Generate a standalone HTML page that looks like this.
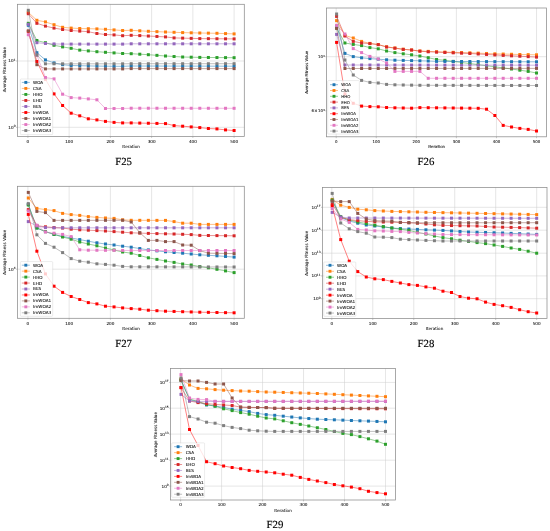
<!DOCTYPE html>
<html><head><meta charset="utf-8"><title>Convergence curves F25-F29</title>
<style>
html,body{margin:0;padding:0;background:#fff;}
body{width:550px;height:531px;overflow:hidden;}
.t{stroke:#1a1a1a;stroke-width:0.09px;}
svg{display:block;text-rendering:geometricPrecision;font-family:"DejaVu Sans","Liberation Sans",sans-serif;}
</style></head><body>
<svg width="550" height="531" viewBox="0 0 550 531">
<rect width="550" height="531" fill="#fff"/>
<rect x="17.4" y="4.3" width="226.9" height="132.2" fill="#fff"/>
<line x1="27.9" y1="4.3" x2="27.9" y2="136.5" stroke="#cdcdcd" stroke-width="0.5"/>
<line x1="27.9" y1="136.5" x2="27.9" y2="137.9" stroke="#777" stroke-width="0.4"/>
<text x="27.9" y="142.79" font-size="4.15" text-anchor="middle" fill="#1a1a1a" class="t">0</text>
<line x1="69.14" y1="4.3" x2="69.14" y2="136.5" stroke="#cdcdcd" stroke-width="0.5"/>
<line x1="69.14" y1="136.5" x2="69.14" y2="137.9" stroke="#777" stroke-width="0.4"/>
<text x="69.14" y="142.79" font-size="4.15" text-anchor="middle" fill="#1a1a1a" class="t">100</text>
<line x1="110.38" y1="4.3" x2="110.38" y2="136.5" stroke="#cdcdcd" stroke-width="0.5"/>
<line x1="110.38" y1="136.5" x2="110.38" y2="137.9" stroke="#777" stroke-width="0.4"/>
<text x="110.38" y="142.79" font-size="4.15" text-anchor="middle" fill="#1a1a1a" class="t">200</text>
<line x1="151.62" y1="4.3" x2="151.62" y2="136.5" stroke="#cdcdcd" stroke-width="0.5"/>
<line x1="151.62" y1="136.5" x2="151.62" y2="137.9" stroke="#777" stroke-width="0.4"/>
<text x="151.62" y="142.79" font-size="4.15" text-anchor="middle" fill="#1a1a1a" class="t">300</text>
<line x1="192.86" y1="4.3" x2="192.86" y2="136.5" stroke="#cdcdcd" stroke-width="0.5"/>
<line x1="192.86" y1="136.5" x2="192.86" y2="137.9" stroke="#777" stroke-width="0.4"/>
<text x="192.86" y="142.79" font-size="4.15" text-anchor="middle" fill="#1a1a1a" class="t">400</text>
<line x1="234.1" y1="4.3" x2="234.1" y2="136.5" stroke="#cdcdcd" stroke-width="0.5"/>
<line x1="234.1" y1="136.5" x2="234.1" y2="137.9" stroke="#777" stroke-width="0.4"/>
<text x="234.1" y="142.79" font-size="4.15" text-anchor="middle" fill="#1a1a1a" class="t">500</text>
<line x1="17.4" y1="61" x2="244.3" y2="61" stroke="#cdcdcd" stroke-width="0.5"/>
<line x1="16" y1="61" x2="17.4" y2="61" stroke="#777" stroke-width="0.4"/>
<text x="15.5" y="62.49" font-size="4.15" text-anchor="end" fill="#1a1a1a" class="t"><tspan dx="0">10</tspan><tspan dy="-1.58" font-size="2.91">1</tspan></text>
<line x1="17.4" y1="127.3" x2="244.3" y2="127.3" stroke="#cdcdcd" stroke-width="0.5"/>
<line x1="16" y1="127.3" x2="17.4" y2="127.3" stroke="#777" stroke-width="0.4"/>
<text x="15.5" y="128.79" font-size="4.15" text-anchor="end" fill="#1a1a1a" class="t"><tspan dx="0">10</tspan><tspan dy="-1.58" font-size="2.91">0</tspan></text>
<polyline points="28.3,25.3 36.88,52.7 45.45,59.9 54.02,62.9 62.6,64.7 71.17,65.5 79.75,65.7 88.32,65.9 96.9,66.1 105.47,66.2 114.05,66.3 122.62,66.31 131.2,66.03 139.78,66.04 148.35,66.06 156.93,66.07 165.5,66.09 174.07,66.1 182.65,66.11 191.22,66.13 199.8,66.14 208.38,66.16 216.95,66.17 225.53,66.19 234.1,66.2" fill="none" stroke="#1f77b4" stroke-width="0.55" stroke-opacity="0.9"/>
<g fill="#1f77b4"><rect x="26.8" y="23.8" width="3.0" height="3.0"/><rect x="35.38" y="51.2" width="3.0" height="3.0"/><rect x="43.95" y="58.4" width="3.0" height="3.0"/><rect x="52.52" y="61.4" width="3.0" height="3.0"/><rect x="61.1" y="63.2" width="3.0" height="3.0"/><rect x="69.67" y="64" width="3.0" height="3.0"/><rect x="78.25" y="64.2" width="3.0" height="3.0"/><rect x="86.82" y="64.4" width="3.0" height="3.0"/><rect x="95.4" y="64.6" width="3.0" height="3.0"/><rect x="103.97" y="64.7" width="3.0" height="3.0"/><rect x="112.55" y="64.8" width="3.0" height="3.0"/><rect x="121.12" y="64.81" width="3.0" height="3.0"/><rect x="129.7" y="64.53" width="3.0" height="3.0"/><rect x="138.28" y="64.54" width="3.0" height="3.0"/><rect x="146.85" y="64.56" width="3.0" height="3.0"/><rect x="155.43" y="64.57" width="3.0" height="3.0"/><rect x="164" y="64.59" width="3.0" height="3.0"/><rect x="172.57" y="64.6" width="3.0" height="3.0"/><rect x="181.15" y="64.61" width="3.0" height="3.0"/><rect x="189.72" y="64.63" width="3.0" height="3.0"/><rect x="198.3" y="64.64" width="3.0" height="3.0"/><rect x="206.88" y="64.66" width="3.0" height="3.0"/><rect x="215.45" y="64.67" width="3.0" height="3.0"/><rect x="224.03" y="64.69" width="3.0" height="3.0"/><rect x="232.6" y="64.7" width="3.0" height="3.0"/></g>
<polyline points="28.3,12.3 36.88,20.3 45.45,21.9 54.02,24.7 62.6,27.3 71.17,28.1 79.75,28.5 88.32,28.7 96.9,28.9 105.47,29.3 114.05,29.9 122.62,30.5 131.2,30.3 139.78,30.8 148.35,31.3 156.93,31.65 165.5,32 174.07,32.3 182.65,32.6 191.22,32.8 199.8,33 208.38,33.15 216.95,33.3 225.53,33.6 234.1,33.9" fill="none" stroke="#ff7f0e" stroke-width="0.55" stroke-opacity="0.9"/>
<g fill="#ff7f0e"><rect x="26.8" y="10.8" width="3.0" height="3.0"/><rect x="35.38" y="18.8" width="3.0" height="3.0"/><rect x="43.95" y="20.4" width="3.0" height="3.0"/><rect x="52.52" y="23.2" width="3.0" height="3.0"/><rect x="61.1" y="25.8" width="3.0" height="3.0"/><rect x="69.67" y="26.6" width="3.0" height="3.0"/><rect x="78.25" y="27" width="3.0" height="3.0"/><rect x="86.82" y="27.2" width="3.0" height="3.0"/><rect x="95.4" y="27.4" width="3.0" height="3.0"/><rect x="103.97" y="27.8" width="3.0" height="3.0"/><rect x="112.55" y="28.4" width="3.0" height="3.0"/><rect x="121.12" y="29" width="3.0" height="3.0"/><rect x="129.7" y="28.8" width="3.0" height="3.0"/><rect x="138.28" y="29.3" width="3.0" height="3.0"/><rect x="146.85" y="29.8" width="3.0" height="3.0"/><rect x="155.43" y="30.15" width="3.0" height="3.0"/><rect x="164" y="30.5" width="3.0" height="3.0"/><rect x="172.57" y="30.8" width="3.0" height="3.0"/><rect x="181.15" y="31.1" width="3.0" height="3.0"/><rect x="189.72" y="31.3" width="3.0" height="3.0"/><rect x="198.3" y="31.5" width="3.0" height="3.0"/><rect x="206.88" y="31.65" width="3.0" height="3.0"/><rect x="215.45" y="31.8" width="3.0" height="3.0"/><rect x="224.03" y="32.1" width="3.0" height="3.0"/><rect x="232.6" y="32.4" width="3.0" height="3.0"/></g>
<polyline points="28.3,23.3 36.88,40.5 45.45,42.7 54.02,45.3 62.6,46.9 71.17,48.3 79.75,50.1 88.32,50.9 96.9,51.7 105.47,52.3 114.05,52.9 122.62,53.5 131.2,53.7 139.78,54.2 148.35,54.7 156.93,55.35 165.5,56 174.07,56.5 182.65,57 191.22,57.2 199.8,57.4 208.38,57.48 216.95,57.55 225.53,57.62 234.1,57.7" fill="none" stroke="#2ca02c" stroke-width="0.55" stroke-opacity="0.9"/>
<g fill="#2ca02c"><rect x="26.8" y="21.8" width="3.0" height="3.0"/><rect x="35.38" y="39" width="3.0" height="3.0"/><rect x="43.95" y="41.2" width="3.0" height="3.0"/><rect x="52.52" y="43.8" width="3.0" height="3.0"/><rect x="61.1" y="45.4" width="3.0" height="3.0"/><rect x="69.67" y="46.8" width="3.0" height="3.0"/><rect x="78.25" y="48.6" width="3.0" height="3.0"/><rect x="86.82" y="49.4" width="3.0" height="3.0"/><rect x="95.4" y="50.2" width="3.0" height="3.0"/><rect x="103.97" y="50.8" width="3.0" height="3.0"/><rect x="112.55" y="51.4" width="3.0" height="3.0"/><rect x="121.12" y="52" width="3.0" height="3.0"/><rect x="129.7" y="52.2" width="3.0" height="3.0"/><rect x="138.28" y="52.7" width="3.0" height="3.0"/><rect x="146.85" y="53.2" width="3.0" height="3.0"/><rect x="155.43" y="53.85" width="3.0" height="3.0"/><rect x="164" y="54.5" width="3.0" height="3.0"/><rect x="172.57" y="55" width="3.0" height="3.0"/><rect x="181.15" y="55.5" width="3.0" height="3.0"/><rect x="189.72" y="55.7" width="3.0" height="3.0"/><rect x="198.3" y="55.9" width="3.0" height="3.0"/><rect x="206.88" y="55.98" width="3.0" height="3.0"/><rect x="215.45" y="56.05" width="3.0" height="3.0"/><rect x="224.03" y="56.12" width="3.0" height="3.0"/><rect x="232.6" y="56.2" width="3.0" height="3.0"/></g>
<polyline points="28.3,13.7 36.88,23.3 45.45,26.1 54.02,28.1 62.6,29.5 71.17,30.5 79.75,31.1 88.32,31.7 96.9,33.5 105.47,34.5 114.05,34.9 122.62,35.7 131.2,35.3 139.78,35.6 148.35,36.03 156.93,36.47 165.5,36.9 174.07,37.9 182.65,38.13 191.22,38.37 199.8,38.6 208.38,38.67 216.95,38.75 225.53,38.83 234.1,38.9" fill="none" stroke="#d62728" stroke-width="0.55" stroke-opacity="0.9"/>
<g fill="#d62728"><rect x="26.8" y="12.2" width="3.0" height="3.0"/><rect x="35.38" y="21.8" width="3.0" height="3.0"/><rect x="43.95" y="24.6" width="3.0" height="3.0"/><rect x="52.52" y="26.6" width="3.0" height="3.0"/><rect x="61.1" y="28" width="3.0" height="3.0"/><rect x="69.67" y="29" width="3.0" height="3.0"/><rect x="78.25" y="29.6" width="3.0" height="3.0"/><rect x="86.82" y="30.2" width="3.0" height="3.0"/><rect x="95.4" y="32" width="3.0" height="3.0"/><rect x="103.97" y="33" width="3.0" height="3.0"/><rect x="112.55" y="33.4" width="3.0" height="3.0"/><rect x="121.12" y="34.2" width="3.0" height="3.0"/><rect x="129.7" y="33.8" width="3.0" height="3.0"/><rect x="138.28" y="34.1" width="3.0" height="3.0"/><rect x="146.85" y="34.53" width="3.0" height="3.0"/><rect x="155.43" y="34.97" width="3.0" height="3.0"/><rect x="164" y="35.4" width="3.0" height="3.0"/><rect x="172.57" y="36.4" width="3.0" height="3.0"/><rect x="181.15" y="36.63" width="3.0" height="3.0"/><rect x="189.72" y="36.87" width="3.0" height="3.0"/><rect x="198.3" y="37.1" width="3.0" height="3.0"/><rect x="206.88" y="37.17" width="3.0" height="3.0"/><rect x="215.45" y="37.25" width="3.0" height="3.0"/><rect x="224.03" y="37.33" width="3.0" height="3.0"/><rect x="232.6" y="37.4" width="3.0" height="3.0"/></g>
<polyline points="28.3,24.3 36.88,42.7 45.45,43.5 54.02,43.9 62.6,44.1 71.17,44.1 79.75,44.1 88.32,44.1 96.9,44.1 105.47,44.1 114.05,44.1 122.62,44.1 131.2,43.8 139.78,43.8 148.35,43.8 156.93,43.8 165.5,43.8 174.07,43.8 182.65,43.8 191.22,43.8 199.8,43.8 208.38,43.8 216.95,43.8 225.53,43.8 234.1,43.8" fill="none" stroke="#9467bd" stroke-width="0.55" stroke-opacity="0.9"/>
<g fill="#9467bd"><rect x="26.8" y="22.8" width="3.0" height="3.0"/><rect x="35.38" y="41.2" width="3.0" height="3.0"/><rect x="43.95" y="42" width="3.0" height="3.0"/><rect x="52.52" y="42.4" width="3.0" height="3.0"/><rect x="61.1" y="42.6" width="3.0" height="3.0"/><rect x="69.67" y="42.6" width="3.0" height="3.0"/><rect x="78.25" y="42.6" width="3.0" height="3.0"/><rect x="86.82" y="42.6" width="3.0" height="3.0"/><rect x="95.4" y="42.6" width="3.0" height="3.0"/><rect x="103.97" y="42.6" width="3.0" height="3.0"/><rect x="112.55" y="42.6" width="3.0" height="3.0"/><rect x="121.12" y="42.6" width="3.0" height="3.0"/><rect x="129.7" y="42.3" width="3.0" height="3.0"/><rect x="138.28" y="42.3" width="3.0" height="3.0"/><rect x="146.85" y="42.3" width="3.0" height="3.0"/><rect x="155.43" y="42.3" width="3.0" height="3.0"/><rect x="164" y="42.3" width="3.0" height="3.0"/><rect x="172.57" y="42.3" width="3.0" height="3.0"/><rect x="181.15" y="42.3" width="3.0" height="3.0"/><rect x="189.72" y="42.3" width="3.0" height="3.0"/><rect x="198.3" y="42.3" width="3.0" height="3.0"/><rect x="206.88" y="42.3" width="3.0" height="3.0"/><rect x="215.45" y="42.3" width="3.0" height="3.0"/><rect x="224.03" y="42.3" width="3.0" height="3.0"/><rect x="232.6" y="42.3" width="3.0" height="3.0"/></g>
<polyline points="28.3,31.3 36.88,61.5 45.45,79.3 54.02,93.9 62.6,105.5 71.17,113.2 79.75,115.8 88.32,118.8 96.9,119.9 105.47,121.4 114.05,122.4 122.62,122.9 131.2,122.9 139.78,123.08 148.35,123.25 156.93,123.42 165.5,123.6 174.07,125.6 182.65,126.2 191.22,126.9 199.8,127.6 208.38,128.5 216.95,128.9 225.53,129.9 234.1,130.5" fill="none" stroke="#ff0000" stroke-width="0.55" stroke-opacity="0.9"/>
<g fill="#ff0000"><rect x="26.8" y="29.8" width="3.0" height="3.0"/><rect x="35.38" y="60" width="3.0" height="3.0"/><rect x="43.95" y="77.8" width="3.0" height="3.0"/><rect x="52.52" y="92.4" width="3.0" height="3.0"/><rect x="61.1" y="104" width="3.0" height="3.0"/><rect x="69.67" y="111.7" width="3.0" height="3.0"/><rect x="78.25" y="114.3" width="3.0" height="3.0"/><rect x="86.82" y="117.3" width="3.0" height="3.0"/><rect x="95.4" y="118.4" width="3.0" height="3.0"/><rect x="103.97" y="119.9" width="3.0" height="3.0"/><rect x="112.55" y="120.9" width="3.0" height="3.0"/><rect x="121.12" y="121.4" width="3.0" height="3.0"/><rect x="129.7" y="121.4" width="3.0" height="3.0"/><rect x="138.28" y="121.58" width="3.0" height="3.0"/><rect x="146.85" y="121.75" width="3.0" height="3.0"/><rect x="155.43" y="121.92" width="3.0" height="3.0"/><rect x="164" y="122.1" width="3.0" height="3.0"/><rect x="172.57" y="124.1" width="3.0" height="3.0"/><rect x="181.15" y="124.7" width="3.0" height="3.0"/><rect x="189.72" y="125.4" width="3.0" height="3.0"/><rect x="198.3" y="126.1" width="3.0" height="3.0"/><rect x="206.88" y="127" width="3.0" height="3.0"/><rect x="215.45" y="127.4" width="3.0" height="3.0"/><rect x="224.03" y="128.4" width="3.0" height="3.0"/><rect x="232.6" y="129" width="3.0" height="3.0"/></g>
<polyline points="28.3,30.9 36.88,64.7 45.45,68.9 54.02,68.9 62.6,68.9 71.17,68.9 79.75,68.9 88.32,68.9 96.9,68.9 105.47,68.9 114.05,68.9 122.62,68.9 131.2,68.6 139.78,68.6 148.35,68.6 156.93,68.6 165.5,68.6 174.07,68.6 182.65,68.6 191.22,68.6 199.8,68.6 208.38,68.6 216.95,68.6 225.53,68.6 234.1,68.6" fill="none" stroke="#8c564b" stroke-width="0.55" stroke-opacity="0.9"/>
<g fill="#8c564b"><rect x="26.8" y="29.4" width="3.0" height="3.0"/><rect x="35.38" y="63.2" width="3.0" height="3.0"/><rect x="43.95" y="67.4" width="3.0" height="3.0"/><rect x="52.52" y="67.4" width="3.0" height="3.0"/><rect x="61.1" y="67.4" width="3.0" height="3.0"/><rect x="69.67" y="67.4" width="3.0" height="3.0"/><rect x="78.25" y="67.4" width="3.0" height="3.0"/><rect x="86.82" y="67.4" width="3.0" height="3.0"/><rect x="95.4" y="67.4" width="3.0" height="3.0"/><rect x="103.97" y="67.4" width="3.0" height="3.0"/><rect x="112.55" y="67.4" width="3.0" height="3.0"/><rect x="121.12" y="67.4" width="3.0" height="3.0"/><rect x="129.7" y="67.1" width="3.0" height="3.0"/><rect x="138.28" y="67.1" width="3.0" height="3.0"/><rect x="146.85" y="67.1" width="3.0" height="3.0"/><rect x="155.43" y="67.1" width="3.0" height="3.0"/><rect x="164" y="67.1" width="3.0" height="3.0"/><rect x="172.57" y="67.1" width="3.0" height="3.0"/><rect x="181.15" y="67.1" width="3.0" height="3.0"/><rect x="189.72" y="67.1" width="3.0" height="3.0"/><rect x="198.3" y="67.1" width="3.0" height="3.0"/><rect x="206.88" y="67.1" width="3.0" height="3.0"/><rect x="215.45" y="67.1" width="3.0" height="3.0"/><rect x="224.03" y="67.1" width="3.0" height="3.0"/><rect x="232.6" y="67.1" width="3.0" height="3.0"/></g>
<polyline points="28.3,34.7 36.88,55.3 45.45,77.5 54.02,78.9 62.6,94.2 71.17,97.6 79.75,98.1 88.32,98.9 96.9,99.8 105.47,108.5 114.05,108.51 122.62,108.51 131.2,108.22 139.78,108.23 148.35,108.23 156.93,108.24 165.5,108.25 174.07,108.25 182.65,108.26 191.22,108.27 199.8,108.27 208.38,108.28 216.95,108.29 225.53,108.29 234.1,108.3" fill="none" stroke="#e377c2" stroke-width="0.55" stroke-opacity="0.9"/>
<g fill="#e377c2"><rect x="26.8" y="33.2" width="3.0" height="3.0"/><rect x="35.38" y="53.8" width="3.0" height="3.0"/><rect x="43.95" y="76" width="3.0" height="3.0"/><rect x="52.52" y="77.4" width="3.0" height="3.0"/><rect x="61.1" y="92.7" width="3.0" height="3.0"/><rect x="69.67" y="96.1" width="3.0" height="3.0"/><rect x="78.25" y="96.6" width="3.0" height="3.0"/><rect x="86.82" y="97.4" width="3.0" height="3.0"/><rect x="95.4" y="98.3" width="3.0" height="3.0"/><rect x="103.97" y="107" width="3.0" height="3.0"/><rect x="112.55" y="107.01" width="3.0" height="3.0"/><rect x="121.12" y="107.01" width="3.0" height="3.0"/><rect x="129.7" y="106.72" width="3.0" height="3.0"/><rect x="138.28" y="106.73" width="3.0" height="3.0"/><rect x="146.85" y="106.73" width="3.0" height="3.0"/><rect x="155.43" y="106.74" width="3.0" height="3.0"/><rect x="164" y="106.75" width="3.0" height="3.0"/><rect x="172.57" y="106.75" width="3.0" height="3.0"/><rect x="181.15" y="106.76" width="3.0" height="3.0"/><rect x="189.72" y="106.77" width="3.0" height="3.0"/><rect x="198.3" y="106.77" width="3.0" height="3.0"/><rect x="206.88" y="106.78" width="3.0" height="3.0"/><rect x="215.45" y="106.79" width="3.0" height="3.0"/><rect x="224.03" y="106.79" width="3.0" height="3.0"/><rect x="232.6" y="106.8" width="3.0" height="3.0"/></g>
<polyline points="28.3,10.3 36.88,55.1 45.45,63.8 54.02,63.8 62.6,63.8 71.17,63.8 79.75,63.8 88.32,63.8 96.9,63.8 105.47,63.8 114.05,63.8 122.62,63.8 131.2,63.7 139.78,63.7 148.35,63.7 156.93,63.7 165.5,63.7 174.07,63.7 182.65,63.7 191.22,63.7 199.8,63.7 208.38,63.7 216.95,63.7 225.53,63.7 234.1,63.7" fill="none" stroke="#7f7f7f" stroke-width="0.55" stroke-opacity="0.9"/>
<g fill="#7f7f7f"><rect x="26.8" y="8.8" width="3.0" height="3.0"/><rect x="35.38" y="53.6" width="3.0" height="3.0"/><rect x="43.95" y="62.3" width="3.0" height="3.0"/><rect x="52.52" y="62.3" width="3.0" height="3.0"/><rect x="61.1" y="62.3" width="3.0" height="3.0"/><rect x="69.67" y="62.3" width="3.0" height="3.0"/><rect x="78.25" y="62.3" width="3.0" height="3.0"/><rect x="86.82" y="62.3" width="3.0" height="3.0"/><rect x="95.4" y="62.3" width="3.0" height="3.0"/><rect x="103.97" y="62.3" width="3.0" height="3.0"/><rect x="112.55" y="62.3" width="3.0" height="3.0"/><rect x="121.12" y="62.3" width="3.0" height="3.0"/><rect x="129.7" y="62.2" width="3.0" height="3.0"/><rect x="138.28" y="62.2" width="3.0" height="3.0"/><rect x="146.85" y="62.2" width="3.0" height="3.0"/><rect x="155.43" y="62.2" width="3.0" height="3.0"/><rect x="164" y="62.2" width="3.0" height="3.0"/><rect x="172.57" y="62.2" width="3.0" height="3.0"/><rect x="181.15" y="62.2" width="3.0" height="3.0"/><rect x="189.72" y="62.2" width="3.0" height="3.0"/><rect x="198.3" y="62.2" width="3.0" height="3.0"/><rect x="206.88" y="62.2" width="3.0" height="3.0"/><rect x="215.45" y="62.2" width="3.0" height="3.0"/><rect x="224.03" y="62.2" width="3.0" height="3.0"/><rect x="232.6" y="62.2" width="3.0" height="3.0"/></g>
<rect x="17.4" y="4.3" width="226.9" height="132.2" fill="none" stroke="#8c8c8c" stroke-width="0.75"/>
<rect x="20.4" y="79" width="32.3" height="55.6" rx="0.8" fill="#fff" fill-opacity="0.8" stroke="#d0d0d0" stroke-width="0.4"/>
<line x1="21.8" y1="82.4" x2="29.8" y2="82.4" stroke="#1f77b4" stroke-width="0.5"/>
<rect x="24.35" y="80.95" width="2.9" height="2.9" fill="#1f77b4"/>
<text x="33.1" y="83.89" font-size="4.15" fill="#1a1a1a" class="t">WOA</text>
<line x1="21.8" y1="88.42" x2="29.8" y2="88.42" stroke="#ff7f0e" stroke-width="0.5"/>
<rect x="24.35" y="86.97" width="2.9" height="2.9" fill="#ff7f0e"/>
<text x="33.1" y="89.91" font-size="4.15" fill="#1a1a1a" class="t">CSA</text>
<line x1="21.8" y1="94.44" x2="29.8" y2="94.44" stroke="#2ca02c" stroke-width="0.5"/>
<rect x="24.35" y="92.99" width="2.9" height="2.9" fill="#2ca02c"/>
<text x="33.1" y="95.93" font-size="4.15" fill="#1a1a1a" class="t">HHO</text>
<line x1="21.8" y1="100.46" x2="29.8" y2="100.46" stroke="#d62728" stroke-width="0.5"/>
<rect x="24.35" y="99.01" width="2.9" height="2.9" fill="#d62728"/>
<text x="33.1" y="101.95" font-size="4.15" fill="#1a1a1a" class="t">EHO</text>
<line x1="21.8" y1="106.48" x2="29.8" y2="106.48" stroke="#9467bd" stroke-width="0.5"/>
<rect x="24.35" y="105.03" width="2.9" height="2.9" fill="#9467bd"/>
<text x="33.1" y="107.97" font-size="4.15" fill="#1a1a1a" class="t">BES</text>
<line x1="21.8" y1="112.5" x2="29.8" y2="112.5" stroke="#ff0000" stroke-width="0.5"/>
<rect x="24.35" y="111.05" width="2.9" height="2.9" fill="#ff0000"/>
<text x="33.1" y="113.99" font-size="4.15" fill="#1a1a1a" class="t">ImWOA</text>
<line x1="21.8" y1="118.52" x2="29.8" y2="118.52" stroke="#8c564b" stroke-width="0.5"/>
<rect x="24.35" y="117.07" width="2.9" height="2.9" fill="#8c564b"/>
<text x="33.1" y="120.01" font-size="4.15" fill="#1a1a1a" class="t">ImWOA1</text>
<line x1="21.8" y1="124.54" x2="29.8" y2="124.54" stroke="#e377c2" stroke-width="0.5"/>
<rect x="24.35" y="123.09" width="2.9" height="2.9" fill="#e377c2"/>
<text x="33.1" y="126.03" font-size="4.15" fill="#1a1a1a" class="t">ImWOA2</text>
<line x1="21.8" y1="130.56" x2="29.8" y2="130.56" stroke="#7f7f7f" stroke-width="0.5"/>
<rect x="24.35" y="129.11" width="2.9" height="2.9" fill="#7f7f7f"/>
<text x="33.1" y="132.05" font-size="4.15" fill="#1a1a1a" class="t">ImWOA3</text>
<text x="131.1" y="147.89" font-size="4.15" text-anchor="middle" fill="#1a1a1a" class="t">Iteration</text>
<text transform="translate(5.99,69.7) rotate(-90)" font-size="4.15" text-anchor="middle" fill="#1a1a1a" class="t">Average Fitness Value</text>
<text x="123.6" y="164.5" font-size="10.8" text-anchor="middle" fill="#000" stroke="#000" stroke-width="0.15" font-family="'Liberation Serif','DejaVu Serif',serif">F25</text>
<rect x="326.6" y="8" width="219.8" height="128.8" fill="#fff"/>
<line x1="336.2" y1="8" x2="336.2" y2="136.8" stroke="#cdcdcd" stroke-width="0.5"/>
<line x1="336.2" y1="136.8" x2="336.2" y2="138.2" stroke="#777" stroke-width="0.4"/>
<text x="336.2" y="142.62" font-size="3.95" text-anchor="middle" fill="#1a1a1a" class="t">0</text>
<line x1="376.26" y1="8" x2="376.26" y2="136.8" stroke="#cdcdcd" stroke-width="0.5"/>
<line x1="376.26" y1="136.8" x2="376.26" y2="138.2" stroke="#777" stroke-width="0.4"/>
<text x="376.26" y="142.62" font-size="3.95" text-anchor="middle" fill="#1a1a1a" class="t">100</text>
<line x1="416.33" y1="8" x2="416.33" y2="136.8" stroke="#cdcdcd" stroke-width="0.5"/>
<line x1="416.33" y1="136.8" x2="416.33" y2="138.2" stroke="#777" stroke-width="0.4"/>
<text x="416.33" y="142.62" font-size="3.95" text-anchor="middle" fill="#1a1a1a" class="t">200</text>
<line x1="456.39" y1="8" x2="456.39" y2="136.8" stroke="#cdcdcd" stroke-width="0.5"/>
<line x1="456.39" y1="136.8" x2="456.39" y2="138.2" stroke="#777" stroke-width="0.4"/>
<text x="456.39" y="142.62" font-size="3.95" text-anchor="middle" fill="#1a1a1a" class="t">300</text>
<line x1="496.46" y1="8" x2="496.46" y2="136.8" stroke="#cdcdcd" stroke-width="0.5"/>
<line x1="496.46" y1="136.8" x2="496.46" y2="138.2" stroke="#777" stroke-width="0.4"/>
<text x="496.46" y="142.62" font-size="3.95" text-anchor="middle" fill="#1a1a1a" class="t">400</text>
<line x1="536.52" y1="8" x2="536.52" y2="136.8" stroke="#cdcdcd" stroke-width="0.5"/>
<line x1="536.52" y1="136.8" x2="536.52" y2="138.2" stroke="#777" stroke-width="0.4"/>
<text x="536.52" y="142.62" font-size="3.95" text-anchor="middle" fill="#1a1a1a" class="t">500</text>
<line x1="326.6" y1="56.7" x2="546.4" y2="56.7" stroke="#cdcdcd" stroke-width="0.5"/>
<line x1="325.2" y1="56.7" x2="326.6" y2="56.7" stroke="#777" stroke-width="0.4"/>
<text x="324.7" y="58.12" font-size="3.95" text-anchor="end" fill="#1a1a1a" class="t"><tspan dx="0">10</tspan><tspan dy="-1.5" font-size="2.77">4</tspan></text>
<line x1="325.2" y1="110.8" x2="326.6" y2="110.8" stroke="#777" stroke-width="0.4"/>
<text x="324.7" y="112.22" font-size="3.95" text-anchor="end" fill="#1a1a1a" class="t">6<tspan dx="0.35">×</tspan><tspan dx="0.35">10</tspan><tspan dy="-1.5" font-size="2.77">3</tspan></text>
<polyline points="336.6,28 344.93,43 353.26,44.4 361.59,45.6 369.92,47.6 378.25,48.8 386.58,51 394.91,52.6 403.24,53.8 411.57,54.8 419.9,56 428.23,57.7 436.56,59.5 444.89,60.3 453.22,61.4 461.55,62.49 469.88,63.57 478.21,64.66 486.54,65.74 494.87,66.83 503.2,67.91 511.53,69 519.86,70.2 528.19,71.4 536.52,73" fill="none" stroke="#2ca02c" stroke-width="0.55" stroke-opacity="0.9"/>
<g fill="#2ca02c"><rect x="335.1" y="26.5" width="3.0" height="3.0"/><rect x="343.43" y="41.5" width="3.0" height="3.0"/><rect x="351.76" y="42.9" width="3.0" height="3.0"/><rect x="360.09" y="44.1" width="3.0" height="3.0"/><rect x="368.42" y="46.1" width="3.0" height="3.0"/><rect x="376.75" y="47.3" width="3.0" height="3.0"/><rect x="385.08" y="49.5" width="3.0" height="3.0"/><rect x="393.41" y="51.1" width="3.0" height="3.0"/><rect x="401.74" y="52.3" width="3.0" height="3.0"/><rect x="410.07" y="53.3" width="3.0" height="3.0"/><rect x="418.4" y="54.5" width="3.0" height="3.0"/><rect x="426.73" y="56.2" width="3.0" height="3.0"/><rect x="435.06" y="58" width="3.0" height="3.0"/><rect x="443.39" y="58.8" width="3.0" height="3.0"/><rect x="451.72" y="59.9" width="3.0" height="3.0"/><rect x="460.05" y="60.99" width="3.0" height="3.0"/><rect x="468.38" y="62.07" width="3.0" height="3.0"/><rect x="476.71" y="63.16" width="3.0" height="3.0"/><rect x="485.04" y="64.24" width="3.0" height="3.0"/><rect x="493.37" y="65.33" width="3.0" height="3.0"/><rect x="501.7" y="66.41" width="3.0" height="3.0"/><rect x="510.03" y="67.5" width="3.0" height="3.0"/><rect x="518.36" y="68.7" width="3.0" height="3.0"/><rect x="526.69" y="69.9" width="3.0" height="3.0"/><rect x="535.02" y="71.5" width="3.0" height="3.0"/></g>
<polyline points="336.6,26 344.93,53.4 353.26,56.6 361.59,57.8 369.92,58.6 378.25,59.2 386.58,59.8 394.91,60.2 403.24,60.4 411.57,60.6 419.9,60.8 428.23,61 436.56,61.4 444.89,61.43 453.22,61.47 461.55,61.5 469.88,61.53 478.21,61.57 486.54,61.6 494.87,61.63 503.2,61.67 511.53,61.7 519.86,61.73 528.19,61.77 536.52,61.8" fill="none" stroke="#1f77b4" stroke-width="0.55" stroke-opacity="0.9"/>
<g fill="#1f77b4"><rect x="335.1" y="24.5" width="3.0" height="3.0"/><rect x="343.43" y="51.9" width="3.0" height="3.0"/><rect x="351.76" y="55.1" width="3.0" height="3.0"/><rect x="360.09" y="56.3" width="3.0" height="3.0"/><rect x="368.42" y="57.1" width="3.0" height="3.0"/><rect x="376.75" y="57.7" width="3.0" height="3.0"/><rect x="385.08" y="58.3" width="3.0" height="3.0"/><rect x="393.41" y="58.7" width="3.0" height="3.0"/><rect x="401.74" y="58.9" width="3.0" height="3.0"/><rect x="410.07" y="59.1" width="3.0" height="3.0"/><rect x="418.4" y="59.3" width="3.0" height="3.0"/><rect x="426.73" y="59.5" width="3.0" height="3.0"/><rect x="435.06" y="59.9" width="3.0" height="3.0"/><rect x="443.39" y="59.93" width="3.0" height="3.0"/><rect x="451.72" y="59.97" width="3.0" height="3.0"/><rect x="460.05" y="60" width="3.0" height="3.0"/><rect x="468.38" y="60.03" width="3.0" height="3.0"/><rect x="476.71" y="60.07" width="3.0" height="3.0"/><rect x="485.04" y="60.1" width="3.0" height="3.0"/><rect x="493.37" y="60.13" width="3.0" height="3.0"/><rect x="501.7" y="60.17" width="3.0" height="3.0"/><rect x="510.03" y="60.2" width="3.0" height="3.0"/><rect x="518.36" y="60.23" width="3.0" height="3.0"/><rect x="526.69" y="60.27" width="3.0" height="3.0"/><rect x="535.02" y="60.3" width="3.0" height="3.0"/></g>
<polyline points="336.6,20.6 344.93,35.4 353.26,38 361.59,41.4 369.92,43.4 378.25,44.6 386.58,46.8 394.91,48 403.24,49.2 411.57,50 419.9,51 428.23,51.37 436.56,51.73 444.89,52.1 453.22,52.33 461.55,52.57 469.88,52.8 478.21,53.13 486.54,53.47 494.87,53.8 503.2,54.03 511.53,54.27 519.86,54.5 528.19,54.65 536.52,54.8" fill="none" stroke="#ff7f0e" stroke-width="0.55" stroke-opacity="0.9"/>
<g fill="#ff7f0e"><rect x="335.1" y="19.1" width="3.0" height="3.0"/><rect x="343.43" y="33.9" width="3.0" height="3.0"/><rect x="351.76" y="36.5" width="3.0" height="3.0"/><rect x="360.09" y="39.9" width="3.0" height="3.0"/><rect x="368.42" y="41.9" width="3.0" height="3.0"/><rect x="376.75" y="43.1" width="3.0" height="3.0"/><rect x="385.08" y="45.3" width="3.0" height="3.0"/><rect x="393.41" y="46.5" width="3.0" height="3.0"/><rect x="401.74" y="47.7" width="3.0" height="3.0"/><rect x="410.07" y="48.5" width="3.0" height="3.0"/><rect x="418.4" y="49.5" width="3.0" height="3.0"/><rect x="426.73" y="49.87" width="3.0" height="3.0"/><rect x="435.06" y="50.23" width="3.0" height="3.0"/><rect x="443.39" y="50.6" width="3.0" height="3.0"/><rect x="451.72" y="50.83" width="3.0" height="3.0"/><rect x="460.05" y="51.07" width="3.0" height="3.0"/><rect x="468.38" y="51.3" width="3.0" height="3.0"/><rect x="476.71" y="51.63" width="3.0" height="3.0"/><rect x="485.04" y="51.97" width="3.0" height="3.0"/><rect x="493.37" y="52.3" width="3.0" height="3.0"/><rect x="501.7" y="52.53" width="3.0" height="3.0"/><rect x="510.03" y="52.77" width="3.0" height="3.0"/><rect x="518.36" y="53" width="3.0" height="3.0"/><rect x="526.69" y="53.15" width="3.0" height="3.0"/><rect x="535.02" y="53.3" width="3.0" height="3.0"/></g>
<polyline points="336.6,16.4 344.93,36 353.26,41.4 361.59,43 369.92,43.6 378.25,44.6 386.58,47 394.91,48.2 403.24,49.4 411.57,50 419.9,51.2 428.23,51.8 436.56,52.14 444.89,52.48 453.22,52.82 461.55,53.16 469.88,53.5 478.21,53.98 486.54,54.45 494.87,54.92 503.2,55.4 511.53,55.83 519.86,56.25 528.19,56.67 536.52,57.1" fill="none" stroke="#d62728" stroke-width="0.55" stroke-opacity="0.9"/>
<g fill="#d62728"><rect x="335.1" y="14.9" width="3.0" height="3.0"/><rect x="343.43" y="34.5" width="3.0" height="3.0"/><rect x="351.76" y="39.9" width="3.0" height="3.0"/><rect x="360.09" y="41.5" width="3.0" height="3.0"/><rect x="368.42" y="42.1" width="3.0" height="3.0"/><rect x="376.75" y="43.1" width="3.0" height="3.0"/><rect x="385.08" y="45.5" width="3.0" height="3.0"/><rect x="393.41" y="46.7" width="3.0" height="3.0"/><rect x="401.74" y="47.9" width="3.0" height="3.0"/><rect x="410.07" y="48.5" width="3.0" height="3.0"/><rect x="418.4" y="49.7" width="3.0" height="3.0"/><rect x="426.73" y="50.3" width="3.0" height="3.0"/><rect x="435.06" y="50.64" width="3.0" height="3.0"/><rect x="443.39" y="50.98" width="3.0" height="3.0"/><rect x="451.72" y="51.32" width="3.0" height="3.0"/><rect x="460.05" y="51.66" width="3.0" height="3.0"/><rect x="468.38" y="52" width="3.0" height="3.0"/><rect x="476.71" y="52.48" width="3.0" height="3.0"/><rect x="485.04" y="52.95" width="3.0" height="3.0"/><rect x="493.37" y="53.42" width="3.0" height="3.0"/><rect x="501.7" y="53.9" width="3.0" height="3.0"/><rect x="510.03" y="54.33" width="3.0" height="3.0"/><rect x="518.36" y="54.75" width="3.0" height="3.0"/><rect x="526.69" y="55.17" width="3.0" height="3.0"/><rect x="535.02" y="55.6" width="3.0" height="3.0"/></g>
<polyline points="336.6,34.4 344.93,65 353.26,65.01 361.59,65.02 369.92,65.03 378.25,65.03 386.58,65.04 394.91,65.05 403.24,65.06 411.57,65.07 419.9,65.08 428.23,65.09 436.56,65.1 444.89,65.1 453.22,65.11 461.55,65.12 469.88,65.13 478.21,65.14 486.54,65.15 494.87,65.16 503.2,65.17 511.53,65.17 519.86,65.18 528.19,65.19 536.52,65.2" fill="none" stroke="#9467bd" stroke-width="0.55" stroke-opacity="0.9"/>
<g fill="#9467bd"><rect x="335.1" y="32.9" width="3.0" height="3.0"/><rect x="343.43" y="63.5" width="3.0" height="3.0"/><rect x="351.76" y="63.51" width="3.0" height="3.0"/><rect x="360.09" y="63.52" width="3.0" height="3.0"/><rect x="368.42" y="63.53" width="3.0" height="3.0"/><rect x="376.75" y="63.53" width="3.0" height="3.0"/><rect x="385.08" y="63.54" width="3.0" height="3.0"/><rect x="393.41" y="63.55" width="3.0" height="3.0"/><rect x="401.74" y="63.56" width="3.0" height="3.0"/><rect x="410.07" y="63.57" width="3.0" height="3.0"/><rect x="418.4" y="63.58" width="3.0" height="3.0"/><rect x="426.73" y="63.59" width="3.0" height="3.0"/><rect x="435.06" y="63.6" width="3.0" height="3.0"/><rect x="443.39" y="63.6" width="3.0" height="3.0"/><rect x="451.72" y="63.61" width="3.0" height="3.0"/><rect x="460.05" y="63.62" width="3.0" height="3.0"/><rect x="468.38" y="63.63" width="3.0" height="3.0"/><rect x="476.71" y="63.64" width="3.0" height="3.0"/><rect x="485.04" y="63.65" width="3.0" height="3.0"/><rect x="493.37" y="63.66" width="3.0" height="3.0"/><rect x="501.7" y="63.67" width="3.0" height="3.0"/><rect x="510.03" y="63.67" width="3.0" height="3.0"/><rect x="518.36" y="63.68" width="3.0" height="3.0"/><rect x="526.69" y="63.69" width="3.0" height="3.0"/><rect x="535.02" y="63.7" width="3.0" height="3.0"/></g>
<polyline points="336.6,42.4 344.93,94 353.26,103.3 361.59,106.1 369.92,106.6 378.25,106.8 386.58,107.5 394.91,107.8 403.24,108 411.57,108.2 419.9,107.6 428.23,107.7 436.56,107.8 444.89,107.9 453.22,108 461.55,108.1 469.88,108.2 478.21,108.3 486.54,109.2 494.87,115.5 503.2,125.4 511.53,127 519.86,128.4 528.19,129.4 536.52,131" fill="none" stroke="#ff0000" stroke-width="0.55" stroke-opacity="0.9"/>
<g fill="#ff0000"><rect x="335.1" y="40.9" width="3.0" height="3.0"/><rect x="343.43" y="92.5" width="3.0" height="3.0"/><rect x="351.76" y="101.8" width="3.0" height="3.0"/><rect x="360.09" y="104.6" width="3.0" height="3.0"/><rect x="368.42" y="105.1" width="3.0" height="3.0"/><rect x="376.75" y="105.3" width="3.0" height="3.0"/><rect x="385.08" y="106" width="3.0" height="3.0"/><rect x="393.41" y="106.3" width="3.0" height="3.0"/><rect x="401.74" y="106.5" width="3.0" height="3.0"/><rect x="410.07" y="106.7" width="3.0" height="3.0"/><rect x="418.4" y="106.1" width="3.0" height="3.0"/><rect x="426.73" y="106.2" width="3.0" height="3.0"/><rect x="435.06" y="106.3" width="3.0" height="3.0"/><rect x="443.39" y="106.4" width="3.0" height="3.0"/><rect x="451.72" y="106.5" width="3.0" height="3.0"/><rect x="460.05" y="106.6" width="3.0" height="3.0"/><rect x="468.38" y="106.7" width="3.0" height="3.0"/><rect x="476.71" y="106.8" width="3.0" height="3.0"/><rect x="485.04" y="107.7" width="3.0" height="3.0"/><rect x="493.37" y="114" width="3.0" height="3.0"/><rect x="501.7" y="123.9" width="3.0" height="3.0"/><rect x="510.03" y="125.5" width="3.0" height="3.0"/><rect x="518.36" y="126.9" width="3.0" height="3.0"/><rect x="526.69" y="127.9" width="3.0" height="3.0"/><rect x="535.02" y="129.5" width="3.0" height="3.0"/></g>
<polyline points="336.6,28.4 344.93,68.5 353.26,68.5 361.59,68.49 369.92,68.49 378.25,68.48 386.58,68.48 394.91,68.47 403.24,68.47 411.57,68.47 419.9,68.46 428.23,68.46 436.56,68.45 444.89,68.45 453.22,68.44 461.55,68.44 469.88,68.43 478.21,68.43 486.54,68.43 494.87,68.42 503.2,68.42 511.53,68.41 519.86,68.41 528.19,68.4 536.52,68.4" fill="none" stroke="#8c564b" stroke-width="0.55" stroke-opacity="0.9"/>
<g fill="#8c564b"><rect x="335.1" y="26.9" width="3.0" height="3.0"/><rect x="343.43" y="67" width="3.0" height="3.0"/><rect x="351.76" y="67" width="3.0" height="3.0"/><rect x="360.09" y="66.99" width="3.0" height="3.0"/><rect x="368.42" y="66.99" width="3.0" height="3.0"/><rect x="376.75" y="66.98" width="3.0" height="3.0"/><rect x="385.08" y="66.98" width="3.0" height="3.0"/><rect x="393.41" y="66.97" width="3.0" height="3.0"/><rect x="401.74" y="66.97" width="3.0" height="3.0"/><rect x="410.07" y="66.97" width="3.0" height="3.0"/><rect x="418.4" y="66.96" width="3.0" height="3.0"/><rect x="426.73" y="66.96" width="3.0" height="3.0"/><rect x="435.06" y="66.95" width="3.0" height="3.0"/><rect x="443.39" y="66.95" width="3.0" height="3.0"/><rect x="451.72" y="66.94" width="3.0" height="3.0"/><rect x="460.05" y="66.94" width="3.0" height="3.0"/><rect x="468.38" y="66.93" width="3.0" height="3.0"/><rect x="476.71" y="66.93" width="3.0" height="3.0"/><rect x="485.04" y="66.93" width="3.0" height="3.0"/><rect x="493.37" y="66.92" width="3.0" height="3.0"/><rect x="501.7" y="66.92" width="3.0" height="3.0"/><rect x="510.03" y="66.91" width="3.0" height="3.0"/><rect x="518.36" y="66.91" width="3.0" height="3.0"/><rect x="526.69" y="66.9" width="3.0" height="3.0"/><rect x="535.02" y="66.9" width="3.0" height="3.0"/></g>
<polyline points="336.6,25.4 344.93,34 353.26,48.6 361.59,52.6 369.92,56.4 378.25,59 386.58,63 394.91,71.4 403.24,71.4 411.57,71.4 419.9,71.4 428.23,78.3 436.56,78.3 444.89,78.3 453.22,78.3 461.55,78.3 469.88,78.3 478.21,78.3 486.54,78.3 494.87,78.3 503.2,78.3 511.53,78.3 519.86,78.3 528.19,78.3 536.52,78.3" fill="none" stroke="#e377c2" stroke-width="0.55" stroke-opacity="0.9"/>
<g fill="#e377c2"><rect x="335.1" y="23.9" width="3.0" height="3.0"/><rect x="343.43" y="32.5" width="3.0" height="3.0"/><rect x="351.76" y="47.1" width="3.0" height="3.0"/><rect x="360.09" y="51.1" width="3.0" height="3.0"/><rect x="368.42" y="54.9" width="3.0" height="3.0"/><rect x="376.75" y="57.5" width="3.0" height="3.0"/><rect x="385.08" y="61.5" width="3.0" height="3.0"/><rect x="393.41" y="69.9" width="3.0" height="3.0"/><rect x="401.74" y="69.9" width="3.0" height="3.0"/><rect x="410.07" y="69.9" width="3.0" height="3.0"/><rect x="418.4" y="69.9" width="3.0" height="3.0"/><rect x="426.73" y="76.8" width="3.0" height="3.0"/><rect x="435.06" y="76.8" width="3.0" height="3.0"/><rect x="443.39" y="76.8" width="3.0" height="3.0"/><rect x="451.72" y="76.8" width="3.0" height="3.0"/><rect x="460.05" y="76.8" width="3.0" height="3.0"/><rect x="468.38" y="76.8" width="3.0" height="3.0"/><rect x="476.71" y="76.8" width="3.0" height="3.0"/><rect x="485.04" y="76.8" width="3.0" height="3.0"/><rect x="493.37" y="76.8" width="3.0" height="3.0"/><rect x="501.7" y="76.8" width="3.0" height="3.0"/><rect x="510.03" y="76.8" width="3.0" height="3.0"/><rect x="518.36" y="76.8" width="3.0" height="3.0"/><rect x="526.69" y="76.8" width="3.0" height="3.0"/><rect x="535.02" y="76.8" width="3.0" height="3.0"/></g>
<polyline points="336.6,14 344.93,60 353.26,75 361.59,80.4 369.92,82.4 378.25,83 386.58,84.4 394.91,84.8 403.24,85 411.57,85.15 419.9,85.3 428.23,85.31 436.56,85.33 444.89,85.34 453.22,85.36 461.55,85.37 469.88,85.39 478.21,85.4 486.54,85.41 494.87,85.43 503.2,85.44 511.53,85.46 519.86,85.47 528.19,85.49 536.52,85.5" fill="none" stroke="#7f7f7f" stroke-width="0.55" stroke-opacity="0.9"/>
<g fill="#7f7f7f"><rect x="335.1" y="12.5" width="3.0" height="3.0"/><rect x="343.43" y="58.5" width="3.0" height="3.0"/><rect x="351.76" y="73.5" width="3.0" height="3.0"/><rect x="360.09" y="78.9" width="3.0" height="3.0"/><rect x="368.42" y="80.9" width="3.0" height="3.0"/><rect x="376.75" y="81.5" width="3.0" height="3.0"/><rect x="385.08" y="82.9" width="3.0" height="3.0"/><rect x="393.41" y="83.3" width="3.0" height="3.0"/><rect x="401.74" y="83.5" width="3.0" height="3.0"/><rect x="410.07" y="83.65" width="3.0" height="3.0"/><rect x="418.4" y="83.8" width="3.0" height="3.0"/><rect x="426.73" y="83.81" width="3.0" height="3.0"/><rect x="435.06" y="83.83" width="3.0" height="3.0"/><rect x="443.39" y="83.84" width="3.0" height="3.0"/><rect x="451.72" y="83.86" width="3.0" height="3.0"/><rect x="460.05" y="83.87" width="3.0" height="3.0"/><rect x="468.38" y="83.89" width="3.0" height="3.0"/><rect x="476.71" y="83.9" width="3.0" height="3.0"/><rect x="485.04" y="83.91" width="3.0" height="3.0"/><rect x="493.37" y="83.93" width="3.0" height="3.0"/><rect x="501.7" y="83.94" width="3.0" height="3.0"/><rect x="510.03" y="83.96" width="3.0" height="3.0"/><rect x="518.36" y="83.97" width="3.0" height="3.0"/><rect x="526.69" y="83.99" width="3.0" height="3.0"/><rect x="535.02" y="84" width="3.0" height="3.0"/></g>
<rect x="326.6" y="8" width="219.8" height="128.8" fill="none" stroke="#8c8c8c" stroke-width="0.75"/>
<rect x="327.7" y="80.6" width="31.7" height="53.5" rx="0.8" fill="#fff" fill-opacity="0.8" stroke="#d0d0d0" stroke-width="0.4"/>
<line x1="330" y1="84.7" x2="338" y2="84.7" stroke="#1f77b4" stroke-width="0.5"/>
<rect x="332.55" y="83.25" width="2.9" height="2.9" fill="#1f77b4"/>
<text x="341.3" y="86.12" font-size="3.95" fill="#1a1a1a" class="t">WOA</text>
<line x1="330" y1="90.5" x2="338" y2="90.5" stroke="#ff7f0e" stroke-width="0.5"/>
<rect x="332.55" y="89.05" width="2.9" height="2.9" fill="#ff7f0e"/>
<text x="341.3" y="91.92" font-size="3.95" fill="#1a1a1a" class="t">CSA</text>
<line x1="330" y1="96.3" x2="338" y2="96.3" stroke="#2ca02c" stroke-width="0.5"/>
<rect x="332.55" y="94.85" width="2.9" height="2.9" fill="#2ca02c"/>
<text x="341.3" y="97.72" font-size="3.95" fill="#1a1a1a" class="t">HHO</text>
<line x1="330" y1="102.1" x2="338" y2="102.1" stroke="#d62728" stroke-width="0.5"/>
<rect x="332.55" y="100.65" width="2.9" height="2.9" fill="#d62728"/>
<text x="341.3" y="103.52" font-size="3.95" fill="#1a1a1a" class="t">EHO</text>
<line x1="330" y1="107.9" x2="338" y2="107.9" stroke="#9467bd" stroke-width="0.5"/>
<rect x="332.55" y="106.45" width="2.9" height="2.9" fill="#9467bd"/>
<text x="341.3" y="109.32" font-size="3.95" fill="#1a1a1a" class="t">BES</text>
<line x1="330" y1="113.7" x2="338" y2="113.7" stroke="#ff0000" stroke-width="0.5"/>
<rect x="332.55" y="112.25" width="2.9" height="2.9" fill="#ff0000"/>
<text x="341.3" y="115.12" font-size="3.95" fill="#1a1a1a" class="t">ImWOA</text>
<line x1="330" y1="119.5" x2="338" y2="119.5" stroke="#8c564b" stroke-width="0.5"/>
<rect x="332.55" y="118.05" width="2.9" height="2.9" fill="#8c564b"/>
<text x="341.3" y="120.92" font-size="3.95" fill="#1a1a1a" class="t">ImWOA1</text>
<line x1="330" y1="125.3" x2="338" y2="125.3" stroke="#e377c2" stroke-width="0.5"/>
<rect x="332.55" y="123.85" width="2.9" height="2.9" fill="#e377c2"/>
<text x="341.3" y="126.72" font-size="3.95" fill="#1a1a1a" class="t">ImWOA2</text>
<line x1="330" y1="131.1" x2="338" y2="131.1" stroke="#7f7f7f" stroke-width="0.5"/>
<rect x="332.55" y="129.65" width="2.9" height="2.9" fill="#7f7f7f"/>
<text x="341.3" y="132.52" font-size="3.95" fill="#1a1a1a" class="t">ImWOA3</text>
<text x="436.7" y="148.02" font-size="3.95" text-anchor="middle" fill="#1a1a1a" class="t">Iteration</text>
<text transform="translate(308.32,72.3) rotate(-90)" font-size="3.95" text-anchor="middle" fill="#1a1a1a" class="t">Average Fitness Value</text>
<text x="425.9" y="164.5" font-size="10.8" text-anchor="middle" fill="#000" stroke="#000" stroke-width="0.15" font-family="'Liberation Serif','DejaVu Serif',serif">F26</text>
<rect x="17.4" y="186.3" width="226.9" height="132" fill="#fff"/>
<line x1="27.9" y1="186.3" x2="27.9" y2="318.3" stroke="#cdcdcd" stroke-width="0.5"/>
<line x1="27.9" y1="318.3" x2="27.9" y2="319.7" stroke="#777" stroke-width="0.4"/>
<text x="27.9" y="324.69" font-size="4.15" text-anchor="middle" fill="#1a1a1a" class="t">0</text>
<line x1="69.14" y1="186.3" x2="69.14" y2="318.3" stroke="#cdcdcd" stroke-width="0.5"/>
<line x1="69.14" y1="318.3" x2="69.14" y2="319.7" stroke="#777" stroke-width="0.4"/>
<text x="69.14" y="324.69" font-size="4.15" text-anchor="middle" fill="#1a1a1a" class="t">100</text>
<line x1="110.38" y1="186.3" x2="110.38" y2="318.3" stroke="#cdcdcd" stroke-width="0.5"/>
<line x1="110.38" y1="318.3" x2="110.38" y2="319.7" stroke="#777" stroke-width="0.4"/>
<text x="110.38" y="324.69" font-size="4.15" text-anchor="middle" fill="#1a1a1a" class="t">200</text>
<line x1="151.62" y1="186.3" x2="151.62" y2="318.3" stroke="#cdcdcd" stroke-width="0.5"/>
<line x1="151.62" y1="318.3" x2="151.62" y2="319.7" stroke="#777" stroke-width="0.4"/>
<text x="151.62" y="324.69" font-size="4.15" text-anchor="middle" fill="#1a1a1a" class="t">300</text>
<line x1="192.86" y1="186.3" x2="192.86" y2="318.3" stroke="#cdcdcd" stroke-width="0.5"/>
<line x1="192.86" y1="318.3" x2="192.86" y2="319.7" stroke="#777" stroke-width="0.4"/>
<text x="192.86" y="324.69" font-size="4.15" text-anchor="middle" fill="#1a1a1a" class="t">400</text>
<line x1="234.1" y1="186.3" x2="234.1" y2="318.3" stroke="#cdcdcd" stroke-width="0.5"/>
<line x1="234.1" y1="318.3" x2="234.1" y2="319.7" stroke="#777" stroke-width="0.4"/>
<text x="234.1" y="324.69" font-size="4.15" text-anchor="middle" fill="#1a1a1a" class="t">500</text>
<line x1="17.4" y1="269.2" x2="244.3" y2="269.2" stroke="#cdcdcd" stroke-width="0.5"/>
<line x1="16" y1="269.2" x2="17.4" y2="269.2" stroke="#777" stroke-width="0.4"/>
<text x="15.5" y="270.69" font-size="4.15" text-anchor="end" fill="#1a1a1a" class="t"><tspan dx="0">10</tspan><tspan dy="-1.58" font-size="2.91">4</tspan></text>
<polyline points="28.3,204.4 36.88,228 45.45,231.6 54.02,234.4 62.6,236.4 71.17,238 79.75,239.6 88.32,241.2 96.9,242.8 105.47,244 114.05,245 122.62,246.2 131.2,247.2 139.78,248.55 148.35,249.9 156.93,250.85 165.5,251.8 174.07,252.5 182.65,253.2 191.22,254 199.8,254.8 208.38,255.3 216.95,255.8 225.53,256.45 234.1,257.1" fill="none" stroke="#1f77b4" stroke-width="0.55" stroke-opacity="0.9"/>
<g fill="#1f77b4"><rect x="26.8" y="202.9" width="3.0" height="3.0"/><rect x="35.38" y="226.5" width="3.0" height="3.0"/><rect x="43.95" y="230.1" width="3.0" height="3.0"/><rect x="52.52" y="232.9" width="3.0" height="3.0"/><rect x="61.1" y="234.9" width="3.0" height="3.0"/><rect x="69.67" y="236.5" width="3.0" height="3.0"/><rect x="78.25" y="238.1" width="3.0" height="3.0"/><rect x="86.82" y="239.7" width="3.0" height="3.0"/><rect x="95.4" y="241.3" width="3.0" height="3.0"/><rect x="103.97" y="242.5" width="3.0" height="3.0"/><rect x="112.55" y="243.5" width="3.0" height="3.0"/><rect x="121.12" y="244.7" width="3.0" height="3.0"/><rect x="129.7" y="245.7" width="3.0" height="3.0"/><rect x="138.28" y="247.05" width="3.0" height="3.0"/><rect x="146.85" y="248.4" width="3.0" height="3.0"/><rect x="155.43" y="249.35" width="3.0" height="3.0"/><rect x="164" y="250.3" width="3.0" height="3.0"/><rect x="172.57" y="251" width="3.0" height="3.0"/><rect x="181.15" y="251.7" width="3.0" height="3.0"/><rect x="189.72" y="252.5" width="3.0" height="3.0"/><rect x="198.3" y="253.3" width="3.0" height="3.0"/><rect x="206.88" y="253.8" width="3.0" height="3.0"/><rect x="215.45" y="254.3" width="3.0" height="3.0"/><rect x="224.03" y="254.95" width="3.0" height="3.0"/><rect x="232.6" y="255.6" width="3.0" height="3.0"/></g>
<polyline points="28.3,198 36.88,208.4 45.45,209.6 54.02,210.6 62.6,213.4 71.17,214.6 79.75,215.4 88.32,216.6 96.9,217.4 105.47,218 114.05,218.4 122.62,219.8 131.2,220.3 139.78,220.33 148.35,220.35 156.93,220.38 165.5,220.4 174.07,221.6 182.65,223.2 191.22,223.2 199.8,224.4 208.38,224.4 216.95,224.4 225.53,224.4 234.1,224.4" fill="none" stroke="#ff7f0e" stroke-width="0.55" stroke-opacity="0.9"/>
<g fill="#ff7f0e"><rect x="26.8" y="196.5" width="3.0" height="3.0"/><rect x="35.38" y="206.9" width="3.0" height="3.0"/><rect x="43.95" y="208.1" width="3.0" height="3.0"/><rect x="52.52" y="209.1" width="3.0" height="3.0"/><rect x="61.1" y="211.9" width="3.0" height="3.0"/><rect x="69.67" y="213.1" width="3.0" height="3.0"/><rect x="78.25" y="213.9" width="3.0" height="3.0"/><rect x="86.82" y="215.1" width="3.0" height="3.0"/><rect x="95.4" y="215.9" width="3.0" height="3.0"/><rect x="103.97" y="216.5" width="3.0" height="3.0"/><rect x="112.55" y="216.9" width="3.0" height="3.0"/><rect x="121.12" y="218.3" width="3.0" height="3.0"/><rect x="129.7" y="218.8" width="3.0" height="3.0"/><rect x="138.28" y="218.83" width="3.0" height="3.0"/><rect x="146.85" y="218.85" width="3.0" height="3.0"/><rect x="155.43" y="218.88" width="3.0" height="3.0"/><rect x="164" y="218.9" width="3.0" height="3.0"/><rect x="172.57" y="220.1" width="3.0" height="3.0"/><rect x="181.15" y="221.7" width="3.0" height="3.0"/><rect x="189.72" y="221.7" width="3.0" height="3.0"/><rect x="198.3" y="222.9" width="3.0" height="3.0"/><rect x="206.88" y="222.9" width="3.0" height="3.0"/><rect x="215.45" y="222.9" width="3.0" height="3.0"/><rect x="224.03" y="222.9" width="3.0" height="3.0"/><rect x="232.6" y="222.9" width="3.0" height="3.0"/></g>
<polyline points="28.3,205 36.88,228 45.45,231.6 54.02,234.4 62.6,237 71.17,239.2 79.75,242 88.32,244 96.9,245.8 105.47,248 114.05,250 122.62,252 131.2,253.2 139.78,255.5 148.35,257.8 156.93,259.4 165.5,261 174.07,262.4 182.65,264 191.22,265 199.8,266.6 208.38,267.8 216.95,269.3 225.53,270.9 234.1,272.6" fill="none" stroke="#2ca02c" stroke-width="0.55" stroke-opacity="0.9"/>
<g fill="#2ca02c"><rect x="26.8" y="203.5" width="3.0" height="3.0"/><rect x="35.38" y="226.5" width="3.0" height="3.0"/><rect x="43.95" y="230.1" width="3.0" height="3.0"/><rect x="52.52" y="232.9" width="3.0" height="3.0"/><rect x="61.1" y="235.5" width="3.0" height="3.0"/><rect x="69.67" y="237.7" width="3.0" height="3.0"/><rect x="78.25" y="240.5" width="3.0" height="3.0"/><rect x="86.82" y="242.5" width="3.0" height="3.0"/><rect x="95.4" y="244.3" width="3.0" height="3.0"/><rect x="103.97" y="246.5" width="3.0" height="3.0"/><rect x="112.55" y="248.5" width="3.0" height="3.0"/><rect x="121.12" y="250.5" width="3.0" height="3.0"/><rect x="129.7" y="251.7" width="3.0" height="3.0"/><rect x="138.28" y="254" width="3.0" height="3.0"/><rect x="146.85" y="256.3" width="3.0" height="3.0"/><rect x="155.43" y="257.9" width="3.0" height="3.0"/><rect x="164" y="259.5" width="3.0" height="3.0"/><rect x="172.57" y="260.9" width="3.0" height="3.0"/><rect x="181.15" y="262.5" width="3.0" height="3.0"/><rect x="189.72" y="263.5" width="3.0" height="3.0"/><rect x="198.3" y="265.1" width="3.0" height="3.0"/><rect x="206.88" y="266.3" width="3.0" height="3.0"/><rect x="215.45" y="267.8" width="3.0" height="3.0"/><rect x="224.03" y="269.4" width="3.0" height="3.0"/><rect x="232.6" y="271.1" width="3.0" height="3.0"/></g>
<polyline points="28.3,209.6 36.88,225.6 45.45,226.8 54.02,227.6 62.6,228 71.17,229.2 79.75,229.8 88.32,230.2 96.9,230.6 105.47,231 114.05,231.6 122.62,232.2 131.2,232.8 139.78,233.1 148.35,233.4 156.93,233.6 165.5,233.8 174.07,234 182.65,234.3 191.22,234.6 199.8,235.4 208.38,235.5 216.95,235.6 225.53,235.7 234.1,235.8" fill="none" stroke="#d62728" stroke-width="0.55" stroke-opacity="0.9"/>
<g fill="#d62728"><rect x="26.8" y="208.1" width="3.0" height="3.0"/><rect x="35.38" y="224.1" width="3.0" height="3.0"/><rect x="43.95" y="225.3" width="3.0" height="3.0"/><rect x="52.52" y="226.1" width="3.0" height="3.0"/><rect x="61.1" y="226.5" width="3.0" height="3.0"/><rect x="69.67" y="227.7" width="3.0" height="3.0"/><rect x="78.25" y="228.3" width="3.0" height="3.0"/><rect x="86.82" y="228.7" width="3.0" height="3.0"/><rect x="95.4" y="229.1" width="3.0" height="3.0"/><rect x="103.97" y="229.5" width="3.0" height="3.0"/><rect x="112.55" y="230.1" width="3.0" height="3.0"/><rect x="121.12" y="230.7" width="3.0" height="3.0"/><rect x="129.7" y="231.3" width="3.0" height="3.0"/><rect x="138.28" y="231.6" width="3.0" height="3.0"/><rect x="146.85" y="231.9" width="3.0" height="3.0"/><rect x="155.43" y="232.1" width="3.0" height="3.0"/><rect x="164" y="232.3" width="3.0" height="3.0"/><rect x="172.57" y="232.5" width="3.0" height="3.0"/><rect x="181.15" y="232.8" width="3.0" height="3.0"/><rect x="189.72" y="233.1" width="3.0" height="3.0"/><rect x="198.3" y="233.9" width="3.0" height="3.0"/><rect x="206.88" y="234" width="3.0" height="3.0"/><rect x="215.45" y="234.1" width="3.0" height="3.0"/><rect x="224.03" y="234.2" width="3.0" height="3.0"/><rect x="232.6" y="234.3" width="3.0" height="3.0"/></g>
<polyline points="28.3,221.6 36.88,226 45.45,227.6 54.02,227.8 62.6,227.8 71.17,227.8 79.75,227.8 88.32,227.8 96.9,227.8 105.47,227.8 114.05,227.8 122.62,227.8 131.2,227.8 139.78,227.8 148.35,227.8 156.93,227.8 165.5,227.8 174.07,227.8 182.65,227.8 191.22,227.8 199.8,227.8 208.38,227.8 216.95,227.8 225.53,227.8 234.1,227.8" fill="none" stroke="#9467bd" stroke-width="0.55" stroke-opacity="0.9"/>
<g fill="#9467bd"><rect x="26.8" y="220.1" width="3.0" height="3.0"/><rect x="35.38" y="224.5" width="3.0" height="3.0"/><rect x="43.95" y="226.1" width="3.0" height="3.0"/><rect x="52.52" y="226.3" width="3.0" height="3.0"/><rect x="61.1" y="226.3" width="3.0" height="3.0"/><rect x="69.67" y="226.3" width="3.0" height="3.0"/><rect x="78.25" y="226.3" width="3.0" height="3.0"/><rect x="86.82" y="226.3" width="3.0" height="3.0"/><rect x="95.4" y="226.3" width="3.0" height="3.0"/><rect x="103.97" y="226.3" width="3.0" height="3.0"/><rect x="112.55" y="226.3" width="3.0" height="3.0"/><rect x="121.12" y="226.3" width="3.0" height="3.0"/><rect x="129.7" y="226.3" width="3.0" height="3.0"/><rect x="138.28" y="226.3" width="3.0" height="3.0"/><rect x="146.85" y="226.3" width="3.0" height="3.0"/><rect x="155.43" y="226.3" width="3.0" height="3.0"/><rect x="164" y="226.3" width="3.0" height="3.0"/><rect x="172.57" y="226.3" width="3.0" height="3.0"/><rect x="181.15" y="226.3" width="3.0" height="3.0"/><rect x="189.72" y="226.3" width="3.0" height="3.0"/><rect x="198.3" y="226.3" width="3.0" height="3.0"/><rect x="206.88" y="226.3" width="3.0" height="3.0"/><rect x="215.45" y="226.3" width="3.0" height="3.0"/><rect x="224.03" y="226.3" width="3.0" height="3.0"/><rect x="232.6" y="226.3" width="3.0" height="3.0"/></g>
<polyline points="28.3,214.4 36.88,251.2 45.45,273.9 54.02,286.2 62.6,292.4 71.17,296.5 79.75,299.5 88.32,302.6 96.9,303.9 105.47,306.2 114.05,306.9 122.62,307.9 131.2,308.6 139.78,309.2 148.35,310.2 156.93,310.7 165.5,311.2 174.07,311.45 182.65,311.7 191.22,311.95 199.8,312.2 208.38,312.35 216.95,312.5 225.53,312.65 234.1,312.8" fill="none" stroke="#ff0000" stroke-width="0.55" stroke-opacity="0.9"/>
<g fill="#ff0000"><rect x="26.8" y="212.9" width="3.0" height="3.0"/><rect x="35.38" y="249.7" width="3.0" height="3.0"/><rect x="43.95" y="272.4" width="3.0" height="3.0"/><rect x="52.52" y="284.7" width="3.0" height="3.0"/><rect x="61.1" y="290.9" width="3.0" height="3.0"/><rect x="69.67" y="295" width="3.0" height="3.0"/><rect x="78.25" y="298" width="3.0" height="3.0"/><rect x="86.82" y="301.1" width="3.0" height="3.0"/><rect x="95.4" y="302.4" width="3.0" height="3.0"/><rect x="103.97" y="304.7" width="3.0" height="3.0"/><rect x="112.55" y="305.4" width="3.0" height="3.0"/><rect x="121.12" y="306.4" width="3.0" height="3.0"/><rect x="129.7" y="307.1" width="3.0" height="3.0"/><rect x="138.28" y="307.7" width="3.0" height="3.0"/><rect x="146.85" y="308.7" width="3.0" height="3.0"/><rect x="155.43" y="309.2" width="3.0" height="3.0"/><rect x="164" y="309.7" width="3.0" height="3.0"/><rect x="172.57" y="309.95" width="3.0" height="3.0"/><rect x="181.15" y="310.2" width="3.0" height="3.0"/><rect x="189.72" y="310.45" width="3.0" height="3.0"/><rect x="198.3" y="310.7" width="3.0" height="3.0"/><rect x="206.88" y="310.85" width="3.0" height="3.0"/><rect x="215.45" y="311" width="3.0" height="3.0"/><rect x="224.03" y="311.15" width="3.0" height="3.0"/><rect x="232.6" y="311.3" width="3.0" height="3.0"/></g>
<polyline points="28.3,192.4 36.88,211.4 45.45,212.6 54.02,220.4 62.6,220.39 71.17,220.38 79.75,220.36 88.32,220.35 96.9,220.34 105.47,220.33 114.05,220.31 122.62,220.3 131.2,222 139.78,232.7 148.35,240.4 156.93,240.4 165.5,241.6 174.07,241.6 182.65,245 191.22,245.2 199.8,250.6 208.38,253.2 216.95,253.33 225.53,253.47 234.1,253.6" fill="none" stroke="#8c564b" stroke-width="0.55" stroke-opacity="0.9"/>
<g fill="#8c564b"><rect x="26.8" y="190.9" width="3.0" height="3.0"/><rect x="35.38" y="209.9" width="3.0" height="3.0"/><rect x="43.95" y="211.1" width="3.0" height="3.0"/><rect x="52.52" y="218.9" width="3.0" height="3.0"/><rect x="61.1" y="218.89" width="3.0" height="3.0"/><rect x="69.67" y="218.88" width="3.0" height="3.0"/><rect x="78.25" y="218.86" width="3.0" height="3.0"/><rect x="86.82" y="218.85" width="3.0" height="3.0"/><rect x="95.4" y="218.84" width="3.0" height="3.0"/><rect x="103.97" y="218.83" width="3.0" height="3.0"/><rect x="112.55" y="218.81" width="3.0" height="3.0"/><rect x="121.12" y="218.8" width="3.0" height="3.0"/><rect x="129.7" y="220.5" width="3.0" height="3.0"/><rect x="138.28" y="231.2" width="3.0" height="3.0"/><rect x="146.85" y="238.9" width="3.0" height="3.0"/><rect x="155.43" y="238.9" width="3.0" height="3.0"/><rect x="164" y="240.1" width="3.0" height="3.0"/><rect x="172.57" y="240.1" width="3.0" height="3.0"/><rect x="181.15" y="243.5" width="3.0" height="3.0"/><rect x="189.72" y="243.7" width="3.0" height="3.0"/><rect x="198.3" y="249.1" width="3.0" height="3.0"/><rect x="206.88" y="251.7" width="3.0" height="3.0"/><rect x="215.45" y="251.83" width="3.0" height="3.0"/><rect x="224.03" y="251.97" width="3.0" height="3.0"/><rect x="232.6" y="252.1" width="3.0" height="3.0"/></g>
<polyline points="28.3,211 36.88,225.2 45.45,232 54.02,233.2 62.6,234.4 71.17,236.6 79.75,249.8 88.32,250.2 96.9,250.26 105.47,250.32 114.05,250.38 122.62,250.44 131.2,250.5 139.78,250.5 148.35,250.5 156.93,250.5 165.5,250.5 174.07,250.5 182.65,250.5 191.22,250.5 199.8,250.5 208.38,250.5 216.95,250.5 225.53,250.5 234.1,250.5" fill="none" stroke="#e377c2" stroke-width="0.55" stroke-opacity="0.9"/>
<g fill="#e377c2"><rect x="26.8" y="209.5" width="3.0" height="3.0"/><rect x="35.38" y="223.7" width="3.0" height="3.0"/><rect x="43.95" y="230.5" width="3.0" height="3.0"/><rect x="52.52" y="231.7" width="3.0" height="3.0"/><rect x="61.1" y="232.9" width="3.0" height="3.0"/><rect x="69.67" y="235.1" width="3.0" height="3.0"/><rect x="78.25" y="248.3" width="3.0" height="3.0"/><rect x="86.82" y="248.7" width="3.0" height="3.0"/><rect x="95.4" y="248.76" width="3.0" height="3.0"/><rect x="103.97" y="248.82" width="3.0" height="3.0"/><rect x="112.55" y="248.88" width="3.0" height="3.0"/><rect x="121.12" y="248.94" width="3.0" height="3.0"/><rect x="129.7" y="249" width="3.0" height="3.0"/><rect x="138.28" y="249" width="3.0" height="3.0"/><rect x="146.85" y="249" width="3.0" height="3.0"/><rect x="155.43" y="249" width="3.0" height="3.0"/><rect x="164" y="249" width="3.0" height="3.0"/><rect x="172.57" y="249" width="3.0" height="3.0"/><rect x="181.15" y="249" width="3.0" height="3.0"/><rect x="189.72" y="249" width="3.0" height="3.0"/><rect x="198.3" y="249" width="3.0" height="3.0"/><rect x="206.88" y="249" width="3.0" height="3.0"/><rect x="215.45" y="249" width="3.0" height="3.0"/><rect x="224.03" y="249" width="3.0" height="3.0"/><rect x="232.6" y="249" width="3.0" height="3.0"/></g>
<polyline points="28.3,203.6 36.88,234.8 45.45,243.4 54.02,247.2 62.6,252.6 71.17,258.6 79.75,261.2 88.32,262.2 96.9,263.8 105.47,264.4 114.05,265.2 122.62,266.4 131.2,266.8 139.78,266.82 148.35,266.83 156.93,266.85 165.5,266.87 174.07,266.88 182.65,266.9 191.22,266.92 199.8,266.93 208.38,266.95 216.95,266.97 225.53,266.98 234.1,267" fill="none" stroke="#7f7f7f" stroke-width="0.55" stroke-opacity="0.9"/>
<g fill="#7f7f7f"><rect x="26.8" y="202.1" width="3.0" height="3.0"/><rect x="35.38" y="233.3" width="3.0" height="3.0"/><rect x="43.95" y="241.9" width="3.0" height="3.0"/><rect x="52.52" y="245.7" width="3.0" height="3.0"/><rect x="61.1" y="251.1" width="3.0" height="3.0"/><rect x="69.67" y="257.1" width="3.0" height="3.0"/><rect x="78.25" y="259.7" width="3.0" height="3.0"/><rect x="86.82" y="260.7" width="3.0" height="3.0"/><rect x="95.4" y="262.3" width="3.0" height="3.0"/><rect x="103.97" y="262.9" width="3.0" height="3.0"/><rect x="112.55" y="263.7" width="3.0" height="3.0"/><rect x="121.12" y="264.9" width="3.0" height="3.0"/><rect x="129.7" y="265.3" width="3.0" height="3.0"/><rect x="138.28" y="265.32" width="3.0" height="3.0"/><rect x="146.85" y="265.33" width="3.0" height="3.0"/><rect x="155.43" y="265.35" width="3.0" height="3.0"/><rect x="164" y="265.37" width="3.0" height="3.0"/><rect x="172.57" y="265.38" width="3.0" height="3.0"/><rect x="181.15" y="265.4" width="3.0" height="3.0"/><rect x="189.72" y="265.42" width="3.0" height="3.0"/><rect x="198.3" y="265.43" width="3.0" height="3.0"/><rect x="206.88" y="265.45" width="3.0" height="3.0"/><rect x="215.45" y="265.47" width="3.0" height="3.0"/><rect x="224.03" y="265.48" width="3.0" height="3.0"/><rect x="232.6" y="265.5" width="3.0" height="3.0"/></g>
<rect x="17.4" y="186.3" width="226.9" height="132" fill="none" stroke="#8c8c8c" stroke-width="0.75"/>
<rect x="20.4" y="261.6" width="32.3" height="54.7" rx="0.8" fill="#fff" fill-opacity="0.8" stroke="#d0d0d0" stroke-width="0.4"/>
<line x1="21.8" y1="265.2" x2="29.8" y2="265.2" stroke="#1f77b4" stroke-width="0.5"/>
<rect x="24.35" y="263.75" width="2.9" height="2.9" fill="#1f77b4"/>
<text x="33.1" y="266.69" font-size="4.15" fill="#1a1a1a" class="t">WOA</text>
<line x1="21.8" y1="271.15" x2="29.8" y2="271.15" stroke="#ff7f0e" stroke-width="0.5"/>
<rect x="24.35" y="269.7" width="2.9" height="2.9" fill="#ff7f0e"/>
<text x="33.1" y="272.64" font-size="4.15" fill="#1a1a1a" class="t">CSA</text>
<line x1="21.8" y1="277.1" x2="29.8" y2="277.1" stroke="#2ca02c" stroke-width="0.5"/>
<rect x="24.35" y="275.65" width="2.9" height="2.9" fill="#2ca02c"/>
<text x="33.1" y="278.59" font-size="4.15" fill="#1a1a1a" class="t">HHO</text>
<line x1="21.8" y1="283.05" x2="29.8" y2="283.05" stroke="#d62728" stroke-width="0.5"/>
<rect x="24.35" y="281.6" width="2.9" height="2.9" fill="#d62728"/>
<text x="33.1" y="284.54" font-size="4.15" fill="#1a1a1a" class="t">EHO</text>
<line x1="21.8" y1="289" x2="29.8" y2="289" stroke="#9467bd" stroke-width="0.5"/>
<rect x="24.35" y="287.55" width="2.9" height="2.9" fill="#9467bd"/>
<text x="33.1" y="290.49" font-size="4.15" fill="#1a1a1a" class="t">BES</text>
<line x1="21.8" y1="294.95" x2="29.8" y2="294.95" stroke="#ff0000" stroke-width="0.5"/>
<rect x="24.35" y="293.5" width="2.9" height="2.9" fill="#ff0000"/>
<text x="33.1" y="296.44" font-size="4.15" fill="#1a1a1a" class="t">ImWOA</text>
<line x1="21.8" y1="300.9" x2="29.8" y2="300.9" stroke="#8c564b" stroke-width="0.5"/>
<rect x="24.35" y="299.45" width="2.9" height="2.9" fill="#8c564b"/>
<text x="33.1" y="302.39" font-size="4.15" fill="#1a1a1a" class="t">ImWOA1</text>
<line x1="21.8" y1="306.85" x2="29.8" y2="306.85" stroke="#e377c2" stroke-width="0.5"/>
<rect x="24.35" y="305.4" width="2.9" height="2.9" fill="#e377c2"/>
<text x="33.1" y="308.34" font-size="4.15" fill="#1a1a1a" class="t">ImWOA2</text>
<line x1="21.8" y1="312.8" x2="29.8" y2="312.8" stroke="#7f7f7f" stroke-width="0.5"/>
<rect x="24.35" y="311.35" width="2.9" height="2.9" fill="#7f7f7f"/>
<text x="33.1" y="314.29" font-size="4.15" fill="#1a1a1a" class="t">ImWOA3</text>
<text x="131.1" y="330.19" font-size="4.15" text-anchor="middle" fill="#1a1a1a" class="t">Iteration</text>
<text transform="translate(5.99,252.4) rotate(-90)" font-size="4.15" text-anchor="middle" fill="#1a1a1a" class="t">Average Fitness Value</text>
<text x="123.6" y="346.5" font-size="10.8" text-anchor="middle" fill="#000" stroke="#000" stroke-width="0.15" font-family="'Liberation Serif','DejaVu Serif',serif">F27</text>
<rect x="322.4" y="187.4" width="224.6" height="131.2" fill="#fff"/>
<line x1="331.8" y1="187.4" x2="331.8" y2="318.6" stroke="#cdcdcd" stroke-width="0.5"/>
<line x1="331.8" y1="318.6" x2="331.8" y2="320" stroke="#777" stroke-width="0.4"/>
<text x="331.8" y="324.79" font-size="4.15" text-anchor="middle" fill="#1a1a1a" class="t">0</text>
<line x1="372.78" y1="187.4" x2="372.78" y2="318.6" stroke="#cdcdcd" stroke-width="0.5"/>
<line x1="372.78" y1="318.6" x2="372.78" y2="320" stroke="#777" stroke-width="0.4"/>
<text x="372.78" y="324.79" font-size="4.15" text-anchor="middle" fill="#1a1a1a" class="t">100</text>
<line x1="413.75" y1="187.4" x2="413.75" y2="318.6" stroke="#cdcdcd" stroke-width="0.5"/>
<line x1="413.75" y1="318.6" x2="413.75" y2="320" stroke="#777" stroke-width="0.4"/>
<text x="413.75" y="324.79" font-size="4.15" text-anchor="middle" fill="#1a1a1a" class="t">200</text>
<line x1="454.73" y1="187.4" x2="454.73" y2="318.6" stroke="#cdcdcd" stroke-width="0.5"/>
<line x1="454.73" y1="318.6" x2="454.73" y2="320" stroke="#777" stroke-width="0.4"/>
<text x="454.73" y="324.79" font-size="4.15" text-anchor="middle" fill="#1a1a1a" class="t">300</text>
<line x1="495.7" y1="187.4" x2="495.7" y2="318.6" stroke="#cdcdcd" stroke-width="0.5"/>
<line x1="495.7" y1="318.6" x2="495.7" y2="320" stroke="#777" stroke-width="0.4"/>
<text x="495.7" y="324.79" font-size="4.15" text-anchor="middle" fill="#1a1a1a" class="t">400</text>
<line x1="536.68" y1="187.4" x2="536.68" y2="318.6" stroke="#cdcdcd" stroke-width="0.5"/>
<line x1="536.68" y1="318.6" x2="536.68" y2="320" stroke="#777" stroke-width="0.4"/>
<text x="536.68" y="324.79" font-size="4.15" text-anchor="middle" fill="#1a1a1a" class="t">500</text>
<line x1="322.4" y1="207.3" x2="547" y2="207.3" stroke="#cdcdcd" stroke-width="0.5"/>
<line x1="321" y1="207.3" x2="322.4" y2="207.3" stroke="#777" stroke-width="0.4"/>
<text x="320.5" y="208.79" font-size="4.15" text-anchor="end" fill="#1a1a1a" class="t"><tspan dx="0">10</tspan><tspan dy="-1.58" font-size="2.91">17</tspan></text>
<line x1="322.4" y1="230.2" x2="547" y2="230.2" stroke="#cdcdcd" stroke-width="0.5"/>
<line x1="321" y1="230.2" x2="322.4" y2="230.2" stroke="#777" stroke-width="0.4"/>
<text x="320.5" y="231.69" font-size="4.15" text-anchor="end" fill="#1a1a1a" class="t"><tspan dx="0">10</tspan><tspan dy="-1.58" font-size="2.91">15</tspan></text>
<line x1="322.4" y1="253.2" x2="547" y2="253.2" stroke="#cdcdcd" stroke-width="0.5"/>
<line x1="321" y1="253.2" x2="322.4" y2="253.2" stroke="#777" stroke-width="0.4"/>
<text x="320.5" y="254.69" font-size="4.15" text-anchor="end" fill="#1a1a1a" class="t"><tspan dx="0">10</tspan><tspan dy="-1.58" font-size="2.91">13</tspan></text>
<line x1="322.4" y1="275.9" x2="547" y2="275.9" stroke="#cdcdcd" stroke-width="0.5"/>
<line x1="321" y1="275.9" x2="322.4" y2="275.9" stroke="#777" stroke-width="0.4"/>
<text x="320.5" y="277.39" font-size="4.15" text-anchor="end" fill="#1a1a1a" class="t"><tspan dx="0">10</tspan><tspan dy="-1.58" font-size="2.91">11</tspan></text>
<line x1="322.4" y1="298.7" x2="547" y2="298.7" stroke="#cdcdcd" stroke-width="0.5"/>
<line x1="321" y1="298.7" x2="322.4" y2="298.7" stroke="#777" stroke-width="0.4"/>
<text x="320.5" y="300.19" font-size="4.15" text-anchor="end" fill="#1a1a1a" class="t"><tspan dx="0">10</tspan><tspan dy="-1.58" font-size="2.91">9</tspan></text>
<polyline points="332.2,201 340.72,217.6 349.24,221 357.76,223.2 366.28,225 374.8,226 383.32,227 391.84,228 400.36,228.6 408.88,229 417.4,229.4 425.92,229.8 434.44,230.1 442.96,230.4 451.48,230.93 460,231.47 468.52,232 477.04,232.25 485.56,232.5 494.08,232.75 502.6,233 511.12,233.35 519.64,233.7 528.16,234.05 536.68,234.4" fill="none" stroke="#1f77b4" stroke-width="0.55" stroke-opacity="0.9"/>
<g fill="#1f77b4"><rect x="330.7" y="199.5" width="3.0" height="3.0"/><rect x="339.22" y="216.1" width="3.0" height="3.0"/><rect x="347.74" y="219.5" width="3.0" height="3.0"/><rect x="356.26" y="221.7" width="3.0" height="3.0"/><rect x="364.78" y="223.5" width="3.0" height="3.0"/><rect x="373.3" y="224.5" width="3.0" height="3.0"/><rect x="381.82" y="225.5" width="3.0" height="3.0"/><rect x="390.34" y="226.5" width="3.0" height="3.0"/><rect x="398.86" y="227.1" width="3.0" height="3.0"/><rect x="407.38" y="227.5" width="3.0" height="3.0"/><rect x="415.9" y="227.9" width="3.0" height="3.0"/><rect x="424.42" y="228.3" width="3.0" height="3.0"/><rect x="432.94" y="228.6" width="3.0" height="3.0"/><rect x="441.46" y="228.9" width="3.0" height="3.0"/><rect x="449.98" y="229.43" width="3.0" height="3.0"/><rect x="458.5" y="229.97" width="3.0" height="3.0"/><rect x="467.02" y="230.5" width="3.0" height="3.0"/><rect x="475.54" y="230.75" width="3.0" height="3.0"/><rect x="484.06" y="231" width="3.0" height="3.0"/><rect x="492.58" y="231.25" width="3.0" height="3.0"/><rect x="501.1" y="231.5" width="3.0" height="3.0"/><rect x="509.62" y="231.85" width="3.0" height="3.0"/><rect x="518.14" y="232.2" width="3.0" height="3.0"/><rect x="526.66" y="232.55" width="3.0" height="3.0"/><rect x="535.18" y="232.9" width="3.0" height="3.0"/></g>
<polyline points="332.2,199.4 340.72,205.2 349.24,207.4 357.76,209.2 366.28,209.8 374.8,210.6 383.32,211 391.84,211.4 400.36,211.6 408.88,211.8 417.4,212 425.92,212.3 434.44,212.47 442.96,212.64 451.48,212.81 460,212.99 468.52,213.16 477.04,213.33 485.56,213.5 494.08,213.68 502.6,213.87 511.12,214.05 519.64,214.23 528.16,214.42 536.68,214.6" fill="none" stroke="#ff7f0e" stroke-width="0.55" stroke-opacity="0.9"/>
<g fill="#ff7f0e"><rect x="330.7" y="197.9" width="3.0" height="3.0"/><rect x="339.22" y="203.7" width="3.0" height="3.0"/><rect x="347.74" y="205.9" width="3.0" height="3.0"/><rect x="356.26" y="207.7" width="3.0" height="3.0"/><rect x="364.78" y="208.3" width="3.0" height="3.0"/><rect x="373.3" y="209.1" width="3.0" height="3.0"/><rect x="381.82" y="209.5" width="3.0" height="3.0"/><rect x="390.34" y="209.9" width="3.0" height="3.0"/><rect x="398.86" y="210.1" width="3.0" height="3.0"/><rect x="407.38" y="210.3" width="3.0" height="3.0"/><rect x="415.9" y="210.5" width="3.0" height="3.0"/><rect x="424.42" y="210.8" width="3.0" height="3.0"/><rect x="432.94" y="210.97" width="3.0" height="3.0"/><rect x="441.46" y="211.14" width="3.0" height="3.0"/><rect x="449.98" y="211.31" width="3.0" height="3.0"/><rect x="458.5" y="211.49" width="3.0" height="3.0"/><rect x="467.02" y="211.66" width="3.0" height="3.0"/><rect x="475.54" y="211.83" width="3.0" height="3.0"/><rect x="484.06" y="212" width="3.0" height="3.0"/><rect x="492.58" y="212.18" width="3.0" height="3.0"/><rect x="501.1" y="212.37" width="3.0" height="3.0"/><rect x="509.62" y="212.55" width="3.0" height="3.0"/><rect x="518.14" y="212.73" width="3.0" height="3.0"/><rect x="526.66" y="212.92" width="3.0" height="3.0"/><rect x="535.18" y="213.1" width="3.0" height="3.0"/></g>
<polyline points="332.2,200 340.72,216.6 349.24,220 357.76,222 366.28,223.6 374.8,225.2 383.32,226.6 391.84,228 400.36,229.2 408.88,230.4 417.4,232.4 425.92,234 434.44,236 442.96,237.6 451.48,238.8 460,240.2 468.52,241.4 477.04,242.6 485.56,243.6 494.08,245 502.6,246.4 511.12,248 519.64,249.4 528.16,251.2 536.68,253.2" fill="none" stroke="#2ca02c" stroke-width="0.55" stroke-opacity="0.9"/>
<g fill="#2ca02c"><rect x="330.7" y="198.5" width="3.0" height="3.0"/><rect x="339.22" y="215.1" width="3.0" height="3.0"/><rect x="347.74" y="218.5" width="3.0" height="3.0"/><rect x="356.26" y="220.5" width="3.0" height="3.0"/><rect x="364.78" y="222.1" width="3.0" height="3.0"/><rect x="373.3" y="223.7" width="3.0" height="3.0"/><rect x="381.82" y="225.1" width="3.0" height="3.0"/><rect x="390.34" y="226.5" width="3.0" height="3.0"/><rect x="398.86" y="227.7" width="3.0" height="3.0"/><rect x="407.38" y="228.9" width="3.0" height="3.0"/><rect x="415.9" y="230.9" width="3.0" height="3.0"/><rect x="424.42" y="232.5" width="3.0" height="3.0"/><rect x="432.94" y="234.5" width="3.0" height="3.0"/><rect x="441.46" y="236.1" width="3.0" height="3.0"/><rect x="449.98" y="237.3" width="3.0" height="3.0"/><rect x="458.5" y="238.7" width="3.0" height="3.0"/><rect x="467.02" y="239.9" width="3.0" height="3.0"/><rect x="475.54" y="241.1" width="3.0" height="3.0"/><rect x="484.06" y="242.1" width="3.0" height="3.0"/><rect x="492.58" y="243.5" width="3.0" height="3.0"/><rect x="501.1" y="244.9" width="3.0" height="3.0"/><rect x="509.62" y="246.5" width="3.0" height="3.0"/><rect x="518.14" y="247.9" width="3.0" height="3.0"/><rect x="526.66" y="249.7" width="3.0" height="3.0"/><rect x="535.18" y="251.7" width="3.0" height="3.0"/></g>
<polyline points="332.2,204 340.72,217.6 349.24,219.6 357.76,220.6 366.28,221.4 374.8,221.8 383.32,222 391.84,222.2 400.36,222.4 408.88,222.8 417.4,223.2 425.92,224 434.44,224.8 442.96,225.4 451.48,225.55 460,225.7 468.52,225.85 477.04,226 485.56,226.5 494.08,227 502.6,227.2 511.12,227.4 519.64,227.6 528.16,227.9 536.68,228.2" fill="none" stroke="#d62728" stroke-width="0.55" stroke-opacity="0.9"/>
<g fill="#d62728"><rect x="330.7" y="202.5" width="3.0" height="3.0"/><rect x="339.22" y="216.1" width="3.0" height="3.0"/><rect x="347.74" y="218.1" width="3.0" height="3.0"/><rect x="356.26" y="219.1" width="3.0" height="3.0"/><rect x="364.78" y="219.9" width="3.0" height="3.0"/><rect x="373.3" y="220.3" width="3.0" height="3.0"/><rect x="381.82" y="220.5" width="3.0" height="3.0"/><rect x="390.34" y="220.7" width="3.0" height="3.0"/><rect x="398.86" y="220.9" width="3.0" height="3.0"/><rect x="407.38" y="221.3" width="3.0" height="3.0"/><rect x="415.9" y="221.7" width="3.0" height="3.0"/><rect x="424.42" y="222.5" width="3.0" height="3.0"/><rect x="432.94" y="223.3" width="3.0" height="3.0"/><rect x="441.46" y="223.9" width="3.0" height="3.0"/><rect x="449.98" y="224.05" width="3.0" height="3.0"/><rect x="458.5" y="224.2" width="3.0" height="3.0"/><rect x="467.02" y="224.35" width="3.0" height="3.0"/><rect x="475.54" y="224.5" width="3.0" height="3.0"/><rect x="484.06" y="225" width="3.0" height="3.0"/><rect x="492.58" y="225.5" width="3.0" height="3.0"/><rect x="501.1" y="225.7" width="3.0" height="3.0"/><rect x="509.62" y="225.9" width="3.0" height="3.0"/><rect x="518.14" y="226.1" width="3.0" height="3.0"/><rect x="526.66" y="226.4" width="3.0" height="3.0"/><rect x="535.18" y="226.7" width="3.0" height="3.0"/></g>
<polyline points="332.2,212.4 340.72,217 349.24,218 357.76,218.01 366.28,218.03 374.8,218.04 383.32,218.05 391.84,218.07 400.36,218.08 408.88,218.1 417.4,218.11 425.92,218.12 434.44,218.14 442.96,218.15 451.48,218.16 460,218.18 468.52,218.19 477.04,218.2 485.56,218.22 494.08,218.23 502.6,218.25 511.12,218.26 519.64,218.27 528.16,218.29 536.68,218.3" fill="none" stroke="#9467bd" stroke-width="0.55" stroke-opacity="0.9"/>
<g fill="#9467bd"><rect x="330.7" y="210.9" width="3.0" height="3.0"/><rect x="339.22" y="215.5" width="3.0" height="3.0"/><rect x="347.74" y="216.5" width="3.0" height="3.0"/><rect x="356.26" y="216.51" width="3.0" height="3.0"/><rect x="364.78" y="216.53" width="3.0" height="3.0"/><rect x="373.3" y="216.54" width="3.0" height="3.0"/><rect x="381.82" y="216.55" width="3.0" height="3.0"/><rect x="390.34" y="216.57" width="3.0" height="3.0"/><rect x="398.86" y="216.58" width="3.0" height="3.0"/><rect x="407.38" y="216.6" width="3.0" height="3.0"/><rect x="415.9" y="216.61" width="3.0" height="3.0"/><rect x="424.42" y="216.62" width="3.0" height="3.0"/><rect x="432.94" y="216.64" width="3.0" height="3.0"/><rect x="441.46" y="216.65" width="3.0" height="3.0"/><rect x="449.98" y="216.66" width="3.0" height="3.0"/><rect x="458.5" y="216.68" width="3.0" height="3.0"/><rect x="467.02" y="216.69" width="3.0" height="3.0"/><rect x="475.54" y="216.7" width="3.0" height="3.0"/><rect x="484.06" y="216.72" width="3.0" height="3.0"/><rect x="492.58" y="216.73" width="3.0" height="3.0"/><rect x="501.1" y="216.75" width="3.0" height="3.0"/><rect x="509.62" y="216.76" width="3.0" height="3.0"/><rect x="518.14" y="216.77" width="3.0" height="3.0"/><rect x="526.66" y="216.79" width="3.0" height="3.0"/><rect x="535.18" y="216.8" width="3.0" height="3.0"/></g>
<polyline points="332.2,206 340.72,239.6 349.24,261.2 357.76,271.6 366.28,277 374.8,278.8 383.32,279.6 391.84,281.4 400.36,283 408.88,284.6 417.4,285.4 425.92,286.9 434.44,288.2 442.96,291.2 451.48,292.5 460,296.5 468.52,298.2 477.04,298.8 485.56,302.1 494.08,304.4 502.6,305.7 511.12,307.4 519.64,309.7 528.16,311.7 536.68,313" fill="none" stroke="#ff0000" stroke-width="0.55" stroke-opacity="0.9"/>
<g fill="#ff0000"><rect x="330.7" y="204.5" width="3.0" height="3.0"/><rect x="339.22" y="238.1" width="3.0" height="3.0"/><rect x="347.74" y="259.7" width="3.0" height="3.0"/><rect x="356.26" y="270.1" width="3.0" height="3.0"/><rect x="364.78" y="275.5" width="3.0" height="3.0"/><rect x="373.3" y="277.3" width="3.0" height="3.0"/><rect x="381.82" y="278.1" width="3.0" height="3.0"/><rect x="390.34" y="279.9" width="3.0" height="3.0"/><rect x="398.86" y="281.5" width="3.0" height="3.0"/><rect x="407.38" y="283.1" width="3.0" height="3.0"/><rect x="415.9" y="283.9" width="3.0" height="3.0"/><rect x="424.42" y="285.4" width="3.0" height="3.0"/><rect x="432.94" y="286.7" width="3.0" height="3.0"/><rect x="441.46" y="289.7" width="3.0" height="3.0"/><rect x="449.98" y="291" width="3.0" height="3.0"/><rect x="458.5" y="295" width="3.0" height="3.0"/><rect x="467.02" y="296.7" width="3.0" height="3.0"/><rect x="475.54" y="297.3" width="3.0" height="3.0"/><rect x="484.06" y="300.6" width="3.0" height="3.0"/><rect x="492.58" y="302.9" width="3.0" height="3.0"/><rect x="501.1" y="304.2" width="3.0" height="3.0"/><rect x="509.62" y="305.9" width="3.0" height="3.0"/><rect x="518.14" y="308.2" width="3.0" height="3.0"/><rect x="526.66" y="310.2" width="3.0" height="3.0"/><rect x="535.18" y="311.5" width="3.0" height="3.0"/></g>
<polyline points="332.2,201 340.72,201.6 349.24,201.6 357.76,213.4 366.28,219 374.8,220.6 383.32,221 391.84,221.2 400.36,222.4 408.88,222.6 417.4,222.8 425.92,222.79 434.44,222.79 442.96,222.78 451.48,222.77 460,222.76 468.52,222.76 477.04,222.75 485.56,222.74 494.08,222.74 502.6,222.73 511.12,222.72 519.64,222.71 528.16,222.71 536.68,222.7" fill="none" stroke="#8c564b" stroke-width="0.55" stroke-opacity="0.9"/>
<g fill="#8c564b"><rect x="330.7" y="199.5" width="3.0" height="3.0"/><rect x="339.22" y="200.1" width="3.0" height="3.0"/><rect x="347.74" y="200.1" width="3.0" height="3.0"/><rect x="356.26" y="211.9" width="3.0" height="3.0"/><rect x="364.78" y="217.5" width="3.0" height="3.0"/><rect x="373.3" y="219.1" width="3.0" height="3.0"/><rect x="381.82" y="219.5" width="3.0" height="3.0"/><rect x="390.34" y="219.7" width="3.0" height="3.0"/><rect x="398.86" y="220.9" width="3.0" height="3.0"/><rect x="407.38" y="221.1" width="3.0" height="3.0"/><rect x="415.9" y="221.3" width="3.0" height="3.0"/><rect x="424.42" y="221.29" width="3.0" height="3.0"/><rect x="432.94" y="221.29" width="3.0" height="3.0"/><rect x="441.46" y="221.28" width="3.0" height="3.0"/><rect x="449.98" y="221.27" width="3.0" height="3.0"/><rect x="458.5" y="221.26" width="3.0" height="3.0"/><rect x="467.02" y="221.26" width="3.0" height="3.0"/><rect x="475.54" y="221.25" width="3.0" height="3.0"/><rect x="484.06" y="221.24" width="3.0" height="3.0"/><rect x="492.58" y="221.24" width="3.0" height="3.0"/><rect x="501.1" y="221.23" width="3.0" height="3.0"/><rect x="509.62" y="221.22" width="3.0" height="3.0"/><rect x="518.14" y="221.21" width="3.0" height="3.0"/><rect x="526.66" y="221.21" width="3.0" height="3.0"/><rect x="535.18" y="221.2" width="3.0" height="3.0"/></g>
<polyline points="332.2,208.6 340.72,219 349.24,222.4 357.76,229.4 366.28,230 374.8,230.8 383.32,231 391.84,231.4 400.36,231.6 408.88,232.4 417.4,233 425.92,233.6 434.44,234.05 442.96,234.5 451.48,234.55 460,234.59 468.52,234.64 477.04,234.68 485.56,234.73 494.08,234.77 502.6,234.82 511.12,234.86 519.64,234.91 528.16,234.95 536.68,235" fill="none" stroke="#e377c2" stroke-width="0.55" stroke-opacity="0.9"/>
<g fill="#e377c2"><rect x="330.7" y="207.1" width="3.0" height="3.0"/><rect x="339.22" y="217.5" width="3.0" height="3.0"/><rect x="347.74" y="220.9" width="3.0" height="3.0"/><rect x="356.26" y="227.9" width="3.0" height="3.0"/><rect x="364.78" y="228.5" width="3.0" height="3.0"/><rect x="373.3" y="229.3" width="3.0" height="3.0"/><rect x="381.82" y="229.5" width="3.0" height="3.0"/><rect x="390.34" y="229.9" width="3.0" height="3.0"/><rect x="398.86" y="230.1" width="3.0" height="3.0"/><rect x="407.38" y="230.9" width="3.0" height="3.0"/><rect x="415.9" y="231.5" width="3.0" height="3.0"/><rect x="424.42" y="232.1" width="3.0" height="3.0"/><rect x="432.94" y="232.55" width="3.0" height="3.0"/><rect x="441.46" y="233" width="3.0" height="3.0"/><rect x="449.98" y="233.05" width="3.0" height="3.0"/><rect x="458.5" y="233.09" width="3.0" height="3.0"/><rect x="467.02" y="233.14" width="3.0" height="3.0"/><rect x="475.54" y="233.18" width="3.0" height="3.0"/><rect x="484.06" y="233.23" width="3.0" height="3.0"/><rect x="492.58" y="233.27" width="3.0" height="3.0"/><rect x="501.1" y="233.32" width="3.0" height="3.0"/><rect x="509.62" y="233.36" width="3.0" height="3.0"/><rect x="518.14" y="233.41" width="3.0" height="3.0"/><rect x="526.66" y="233.45" width="3.0" height="3.0"/><rect x="535.18" y="233.5" width="3.0" height="3.0"/></g>
<polyline points="332.2,193.4 340.72,223 349.24,228.8 357.76,231.6 366.28,233.2 374.8,237 383.32,237.2 391.84,237.6 400.36,239.2 408.88,239.6 417.4,240 425.92,240.4 434.44,240.7 442.96,241 451.48,241 460,241 468.52,241 477.04,241 485.56,241 494.08,241 502.6,241 511.12,241 519.64,241 528.16,241 536.68,241" fill="none" stroke="#7f7f7f" stroke-width="0.55" stroke-opacity="0.9"/>
<g fill="#7f7f7f"><rect x="330.7" y="191.9" width="3.0" height="3.0"/><rect x="339.22" y="221.5" width="3.0" height="3.0"/><rect x="347.74" y="227.3" width="3.0" height="3.0"/><rect x="356.26" y="230.1" width="3.0" height="3.0"/><rect x="364.78" y="231.7" width="3.0" height="3.0"/><rect x="373.3" y="235.5" width="3.0" height="3.0"/><rect x="381.82" y="235.7" width="3.0" height="3.0"/><rect x="390.34" y="236.1" width="3.0" height="3.0"/><rect x="398.86" y="237.7" width="3.0" height="3.0"/><rect x="407.38" y="238.1" width="3.0" height="3.0"/><rect x="415.9" y="238.5" width="3.0" height="3.0"/><rect x="424.42" y="238.9" width="3.0" height="3.0"/><rect x="432.94" y="239.2" width="3.0" height="3.0"/><rect x="441.46" y="239.5" width="3.0" height="3.0"/><rect x="449.98" y="239.5" width="3.0" height="3.0"/><rect x="458.5" y="239.5" width="3.0" height="3.0"/><rect x="467.02" y="239.5" width="3.0" height="3.0"/><rect x="475.54" y="239.5" width="3.0" height="3.0"/><rect x="484.06" y="239.5" width="3.0" height="3.0"/><rect x="492.58" y="239.5" width="3.0" height="3.0"/><rect x="501.1" y="239.5" width="3.0" height="3.0"/><rect x="509.62" y="239.5" width="3.0" height="3.0"/><rect x="518.14" y="239.5" width="3.0" height="3.0"/><rect x="526.66" y="239.5" width="3.0" height="3.0"/><rect x="535.18" y="239.5" width="3.0" height="3.0"/></g>
<rect x="322.4" y="187.4" width="224.6" height="131.2" fill="none" stroke="#8c8c8c" stroke-width="0.75"/>
<rect x="323.8" y="262" width="32" height="54.4" rx="0.8" fill="#fff" fill-opacity="0.8" stroke="#d0d0d0" stroke-width="0.4"/>
<line x1="326" y1="265.3" x2="334" y2="265.3" stroke="#1f77b4" stroke-width="0.5"/>
<rect x="328.55" y="263.85" width="2.9" height="2.9" fill="#1f77b4"/>
<text x="337.1" y="266.79" font-size="4.15" fill="#1a1a1a" class="t">WOA</text>
<line x1="326" y1="271.27" x2="334" y2="271.27" stroke="#ff7f0e" stroke-width="0.5"/>
<rect x="328.55" y="269.82" width="2.9" height="2.9" fill="#ff7f0e"/>
<text x="337.1" y="272.76" font-size="4.15" fill="#1a1a1a" class="t">CSA</text>
<line x1="326" y1="277.24" x2="334" y2="277.24" stroke="#2ca02c" stroke-width="0.5"/>
<rect x="328.55" y="275.79" width="2.9" height="2.9" fill="#2ca02c"/>
<text x="337.1" y="278.73" font-size="4.15" fill="#1a1a1a" class="t">HHO</text>
<line x1="326" y1="283.21" x2="334" y2="283.21" stroke="#d62728" stroke-width="0.5"/>
<rect x="328.55" y="281.76" width="2.9" height="2.9" fill="#d62728"/>
<text x="337.1" y="284.7" font-size="4.15" fill="#1a1a1a" class="t">EHO</text>
<line x1="326" y1="289.18" x2="334" y2="289.18" stroke="#9467bd" stroke-width="0.5"/>
<rect x="328.55" y="287.73" width="2.9" height="2.9" fill="#9467bd"/>
<text x="337.1" y="290.67" font-size="4.15" fill="#1a1a1a" class="t">BES</text>
<line x1="326" y1="295.15" x2="334" y2="295.15" stroke="#ff0000" stroke-width="0.5"/>
<rect x="328.55" y="293.7" width="2.9" height="2.9" fill="#ff0000"/>
<text x="337.1" y="296.64" font-size="4.15" fill="#1a1a1a" class="t">ImWOA</text>
<line x1="326" y1="301.12" x2="334" y2="301.12" stroke="#8c564b" stroke-width="0.5"/>
<rect x="328.55" y="299.67" width="2.9" height="2.9" fill="#8c564b"/>
<text x="337.1" y="302.61" font-size="4.15" fill="#1a1a1a" class="t">ImWOA1</text>
<line x1="326" y1="307.09" x2="334" y2="307.09" stroke="#e377c2" stroke-width="0.5"/>
<rect x="328.55" y="305.64" width="2.9" height="2.9" fill="#e377c2"/>
<text x="337.1" y="308.58" font-size="4.15" fill="#1a1a1a" class="t">ImWOA2</text>
<line x1="326" y1="313.06" x2="334" y2="313.06" stroke="#7f7f7f" stroke-width="0.5"/>
<rect x="328.55" y="311.61" width="2.9" height="2.9" fill="#7f7f7f"/>
<text x="337.1" y="314.55" font-size="4.15" fill="#1a1a1a" class="t">ImWOA3</text>
<text x="434.5" y="330.29" font-size="4.15" text-anchor="middle" fill="#1a1a1a" class="t">Iteration</text>
<text transform="translate(308.29,253.4) rotate(-90)" font-size="4.15" text-anchor="middle" fill="#1a1a1a" class="t">Average Fitness Value</text>
<text x="425.9" y="346.5" font-size="10.8" text-anchor="middle" fill="#000" stroke="#000" stroke-width="0.15" font-family="'Liberation Serif','DejaVu Serif',serif">F28</text>
<rect x="170.6" y="368.4" width="224.9" height="131.6" fill="#fff"/>
<line x1="180.6" y1="368.4" x2="180.6" y2="500" stroke="#cdcdcd" stroke-width="0.5"/>
<line x1="180.6" y1="500" x2="180.6" y2="501.4" stroke="#777" stroke-width="0.4"/>
<text x="180.6" y="506.19" font-size="4.15" text-anchor="middle" fill="#1a1a1a" class="t">0</text>
<line x1="221.58" y1="368.4" x2="221.58" y2="500" stroke="#cdcdcd" stroke-width="0.5"/>
<line x1="221.58" y1="500" x2="221.58" y2="501.4" stroke="#777" stroke-width="0.4"/>
<text x="221.58" y="506.19" font-size="4.15" text-anchor="middle" fill="#1a1a1a" class="t">100</text>
<line x1="262.55" y1="368.4" x2="262.55" y2="500" stroke="#cdcdcd" stroke-width="0.5"/>
<line x1="262.55" y1="500" x2="262.55" y2="501.4" stroke="#777" stroke-width="0.4"/>
<text x="262.55" y="506.19" font-size="4.15" text-anchor="middle" fill="#1a1a1a" class="t">200</text>
<line x1="303.53" y1="368.4" x2="303.53" y2="500" stroke="#cdcdcd" stroke-width="0.5"/>
<line x1="303.53" y1="500" x2="303.53" y2="501.4" stroke="#777" stroke-width="0.4"/>
<text x="303.53" y="506.19" font-size="4.15" text-anchor="middle" fill="#1a1a1a" class="t">300</text>
<line x1="344.5" y1="368.4" x2="344.5" y2="500" stroke="#cdcdcd" stroke-width="0.5"/>
<line x1="344.5" y1="500" x2="344.5" y2="501.4" stroke="#777" stroke-width="0.4"/>
<text x="344.5" y="506.19" font-size="4.15" text-anchor="middle" fill="#1a1a1a" class="t">400</text>
<line x1="385.48" y1="368.4" x2="385.48" y2="500" stroke="#cdcdcd" stroke-width="0.5"/>
<line x1="385.48" y1="500" x2="385.48" y2="501.4" stroke="#777" stroke-width="0.4"/>
<text x="385.48" y="506.19" font-size="4.15" text-anchor="middle" fill="#1a1a1a" class="t">500</text>
<line x1="170.6" y1="382.4" x2="395.5" y2="382.4" stroke="#cdcdcd" stroke-width="0.5"/>
<line x1="169.2" y1="382.4" x2="170.6" y2="382.4" stroke="#777" stroke-width="0.4"/>
<text x="168.7" y="383.89" font-size="4.15" text-anchor="end" fill="#1a1a1a" class="t"><tspan dx="0">10</tspan><tspan dy="-1.58" font-size="2.91">17</tspan></text>
<line x1="170.6" y1="408.2" x2="395.5" y2="408.2" stroke="#cdcdcd" stroke-width="0.5"/>
<line x1="169.2" y1="408.2" x2="170.6" y2="408.2" stroke="#777" stroke-width="0.4"/>
<text x="168.7" y="409.69" font-size="4.15" text-anchor="end" fill="#1a1a1a" class="t"><tspan dx="0">10</tspan><tspan dy="-1.58" font-size="2.91">15</tspan></text>
<line x1="170.6" y1="434.1" x2="395.5" y2="434.1" stroke="#cdcdcd" stroke-width="0.5"/>
<line x1="169.2" y1="434.1" x2="170.6" y2="434.1" stroke="#777" stroke-width="0.4"/>
<text x="168.7" y="435.59" font-size="4.15" text-anchor="end" fill="#1a1a1a" class="t"><tspan dx="0">10</tspan><tspan dy="-1.58" font-size="2.91">13</tspan></text>
<line x1="170.6" y1="460.2" x2="395.5" y2="460.2" stroke="#cdcdcd" stroke-width="0.5"/>
<line x1="169.2" y1="460.2" x2="170.6" y2="460.2" stroke="#777" stroke-width="0.4"/>
<text x="168.7" y="461.69" font-size="4.15" text-anchor="end" fill="#1a1a1a" class="t"><tspan dx="0">10</tspan><tspan dy="-1.58" font-size="2.91">11</tspan></text>
<line x1="170.6" y1="486.1" x2="395.5" y2="486.1" stroke="#cdcdcd" stroke-width="0.5"/>
<line x1="169.2" y1="486.1" x2="170.6" y2="486.1" stroke="#777" stroke-width="0.4"/>
<text x="168.7" y="487.59" font-size="4.15" text-anchor="end" fill="#1a1a1a" class="t"><tspan dx="0">10</tspan><tspan dy="-1.58" font-size="2.91">9</tspan></text>
<polyline points="181,380 189.52,399.6 198.04,402 206.56,405 215.08,406 223.6,407.4 232.12,409.2 240.64,410.4 249.16,411.6 257.68,413.4 266.2,414.6 274.72,415.3 283.24,416.17 291.76,417.03 300.28,417.9 308.8,418.55 317.32,419.2 325.84,419.5 334.36,419.8 342.88,420.15 351.4,420.5 359.92,420.8 368.44,421.1 376.96,421.45 385.48,421.8" fill="none" stroke="#1f77b4" stroke-width="0.55" stroke-opacity="0.9"/>
<g fill="#1f77b4"><rect x="179.5" y="378.5" width="3.0" height="3.0"/><rect x="188.02" y="398.1" width="3.0" height="3.0"/><rect x="196.54" y="400.5" width="3.0" height="3.0"/><rect x="205.06" y="403.5" width="3.0" height="3.0"/><rect x="213.58" y="404.5" width="3.0" height="3.0"/><rect x="222.1" y="405.9" width="3.0" height="3.0"/><rect x="230.62" y="407.7" width="3.0" height="3.0"/><rect x="239.14" y="408.9" width="3.0" height="3.0"/><rect x="247.66" y="410.1" width="3.0" height="3.0"/><rect x="256.18" y="411.9" width="3.0" height="3.0"/><rect x="264.7" y="413.1" width="3.0" height="3.0"/><rect x="273.22" y="413.8" width="3.0" height="3.0"/><rect x="281.74" y="414.67" width="3.0" height="3.0"/><rect x="290.26" y="415.53" width="3.0" height="3.0"/><rect x="298.78" y="416.4" width="3.0" height="3.0"/><rect x="307.3" y="417.05" width="3.0" height="3.0"/><rect x="315.82" y="417.7" width="3.0" height="3.0"/><rect x="324.34" y="418" width="3.0" height="3.0"/><rect x="332.86" y="418.3" width="3.0" height="3.0"/><rect x="341.38" y="418.65" width="3.0" height="3.0"/><rect x="349.9" y="419" width="3.0" height="3.0"/><rect x="358.42" y="419.3" width="3.0" height="3.0"/><rect x="366.94" y="419.6" width="3.0" height="3.0"/><rect x="375.46" y="419.95" width="3.0" height="3.0"/><rect x="383.98" y="420.3" width="3.0" height="3.0"/></g>
<polyline points="181,379 189.52,385 198.04,388.4 206.56,388.8 215.08,389.6 223.6,390.2 232.12,390.6 240.64,391 249.16,391.2 257.68,391.6 266.2,392 274.72,392.2 283.24,392.46 291.76,392.72 300.28,392.98 308.8,393.24 317.32,393.5 325.84,393.9 334.36,394.3 342.88,394.7 351.4,395.1 359.92,395.5 368.44,395.9 376.96,396.3 385.48,396.7" fill="none" stroke="#ff7f0e" stroke-width="0.55" stroke-opacity="0.9"/>
<g fill="#ff7f0e"><rect x="179.5" y="377.5" width="3.0" height="3.0"/><rect x="188.02" y="383.5" width="3.0" height="3.0"/><rect x="196.54" y="386.9" width="3.0" height="3.0"/><rect x="205.06" y="387.3" width="3.0" height="3.0"/><rect x="213.58" y="388.1" width="3.0" height="3.0"/><rect x="222.1" y="388.7" width="3.0" height="3.0"/><rect x="230.62" y="389.1" width="3.0" height="3.0"/><rect x="239.14" y="389.5" width="3.0" height="3.0"/><rect x="247.66" y="389.7" width="3.0" height="3.0"/><rect x="256.18" y="390.1" width="3.0" height="3.0"/><rect x="264.7" y="390.5" width="3.0" height="3.0"/><rect x="273.22" y="390.7" width="3.0" height="3.0"/><rect x="281.74" y="390.96" width="3.0" height="3.0"/><rect x="290.26" y="391.22" width="3.0" height="3.0"/><rect x="298.78" y="391.48" width="3.0" height="3.0"/><rect x="307.3" y="391.74" width="3.0" height="3.0"/><rect x="315.82" y="392" width="3.0" height="3.0"/><rect x="324.34" y="392.4" width="3.0" height="3.0"/><rect x="332.86" y="392.8" width="3.0" height="3.0"/><rect x="341.38" y="393.2" width="3.0" height="3.0"/><rect x="349.9" y="393.6" width="3.0" height="3.0"/><rect x="358.42" y="394" width="3.0" height="3.0"/><rect x="366.94" y="394.4" width="3.0" height="3.0"/><rect x="375.46" y="394.8" width="3.0" height="3.0"/><rect x="383.98" y="395.2" width="3.0" height="3.0"/></g>
<polyline points="181,380 189.52,399 198.04,401.4 206.56,404.4 215.08,406.2 223.6,408.8 232.12,410.6 240.64,412.6 249.16,414.2 257.68,416.2 266.2,418 274.72,418.9 283.24,420.8 291.76,422.7 300.28,424.35 308.8,426 317.32,427.75 325.84,429.5 334.36,431.45 342.88,433.4 351.4,434.6 359.92,436.6 368.44,438.8 376.96,441.1 385.48,444.3" fill="none" stroke="#2ca02c" stroke-width="0.55" stroke-opacity="0.9"/>
<g fill="#2ca02c"><rect x="179.5" y="378.5" width="3.0" height="3.0"/><rect x="188.02" y="397.5" width="3.0" height="3.0"/><rect x="196.54" y="399.9" width="3.0" height="3.0"/><rect x="205.06" y="402.9" width="3.0" height="3.0"/><rect x="213.58" y="404.7" width="3.0" height="3.0"/><rect x="222.1" y="407.3" width="3.0" height="3.0"/><rect x="230.62" y="409.1" width="3.0" height="3.0"/><rect x="239.14" y="411.1" width="3.0" height="3.0"/><rect x="247.66" y="412.7" width="3.0" height="3.0"/><rect x="256.18" y="414.7" width="3.0" height="3.0"/><rect x="264.7" y="416.5" width="3.0" height="3.0"/><rect x="273.22" y="417.4" width="3.0" height="3.0"/><rect x="281.74" y="419.3" width="3.0" height="3.0"/><rect x="290.26" y="421.2" width="3.0" height="3.0"/><rect x="298.78" y="422.85" width="3.0" height="3.0"/><rect x="307.3" y="424.5" width="3.0" height="3.0"/><rect x="315.82" y="426.25" width="3.0" height="3.0"/><rect x="324.34" y="428" width="3.0" height="3.0"/><rect x="332.86" y="429.95" width="3.0" height="3.0"/><rect x="341.38" y="431.9" width="3.0" height="3.0"/><rect x="349.9" y="433.1" width="3.0" height="3.0"/><rect x="358.42" y="435.1" width="3.0" height="3.0"/><rect x="366.94" y="437.3" width="3.0" height="3.0"/><rect x="375.46" y="439.6" width="3.0" height="3.0"/><rect x="383.98" y="442.8" width="3.0" height="3.0"/></g>
<polyline points="181,387.6 189.52,401 198.04,402.6 206.56,403.6 215.08,404.4 223.6,405 232.12,405.5 240.64,407.1 249.16,407.4 257.68,407.5 266.2,407.6 274.72,408.3 283.24,408.34 291.76,408.38 300.28,408.42 308.8,408.45 317.32,408.49 325.84,408.53 334.36,408.57 342.88,408.61 351.4,408.65 359.92,408.68 368.44,408.72 376.96,408.76 385.48,408.8" fill="none" stroke="#d62728" stroke-width="0.55" stroke-opacity="0.9"/>
<g fill="#d62728"><rect x="179.5" y="386.1" width="3.0" height="3.0"/><rect x="188.02" y="399.5" width="3.0" height="3.0"/><rect x="196.54" y="401.1" width="3.0" height="3.0"/><rect x="205.06" y="402.1" width="3.0" height="3.0"/><rect x="213.58" y="402.9" width="3.0" height="3.0"/><rect x="222.1" y="403.5" width="3.0" height="3.0"/><rect x="230.62" y="404" width="3.0" height="3.0"/><rect x="239.14" y="405.6" width="3.0" height="3.0"/><rect x="247.66" y="405.9" width="3.0" height="3.0"/><rect x="256.18" y="406" width="3.0" height="3.0"/><rect x="264.7" y="406.1" width="3.0" height="3.0"/><rect x="273.22" y="406.8" width="3.0" height="3.0"/><rect x="281.74" y="406.84" width="3.0" height="3.0"/><rect x="290.26" y="406.88" width="3.0" height="3.0"/><rect x="298.78" y="406.92" width="3.0" height="3.0"/><rect x="307.3" y="406.95" width="3.0" height="3.0"/><rect x="315.82" y="406.99" width="3.0" height="3.0"/><rect x="324.34" y="407.03" width="3.0" height="3.0"/><rect x="332.86" y="407.07" width="3.0" height="3.0"/><rect x="341.38" y="407.11" width="3.0" height="3.0"/><rect x="349.9" y="407.15" width="3.0" height="3.0"/><rect x="358.42" y="407.18" width="3.0" height="3.0"/><rect x="366.94" y="407.22" width="3.0" height="3.0"/><rect x="375.46" y="407.26" width="3.0" height="3.0"/><rect x="383.98" y="407.3" width="3.0" height="3.0"/></g>
<polyline points="181,394.4 189.52,401 198.04,401.4 206.56,401.4 215.08,401.4 223.6,401.4 232.12,401.4 240.64,401.4 249.16,401.4 257.68,401.4 266.2,401.4 274.72,401.4 283.24,401.4 291.76,401.4 300.28,401.4 308.8,401.4 317.32,401.4 325.84,401.4 334.36,401.4 342.88,401.4 351.4,401.4 359.92,401.4 368.44,401.4 376.96,401.4 385.48,401.4" fill="none" stroke="#9467bd" stroke-width="0.55" stroke-opacity="0.9"/>
<g fill="#9467bd"><rect x="179.5" y="392.9" width="3.0" height="3.0"/><rect x="188.02" y="399.5" width="3.0" height="3.0"/><rect x="196.54" y="399.9" width="3.0" height="3.0"/><rect x="205.06" y="399.9" width="3.0" height="3.0"/><rect x="213.58" y="399.9" width="3.0" height="3.0"/><rect x="222.1" y="399.9" width="3.0" height="3.0"/><rect x="230.62" y="399.9" width="3.0" height="3.0"/><rect x="239.14" y="399.9" width="3.0" height="3.0"/><rect x="247.66" y="399.9" width="3.0" height="3.0"/><rect x="256.18" y="399.9" width="3.0" height="3.0"/><rect x="264.7" y="399.9" width="3.0" height="3.0"/><rect x="273.22" y="399.9" width="3.0" height="3.0"/><rect x="281.74" y="399.9" width="3.0" height="3.0"/><rect x="290.26" y="399.9" width="3.0" height="3.0"/><rect x="298.78" y="399.9" width="3.0" height="3.0"/><rect x="307.3" y="399.9" width="3.0" height="3.0"/><rect x="315.82" y="399.9" width="3.0" height="3.0"/><rect x="324.34" y="399.9" width="3.0" height="3.0"/><rect x="332.86" y="399.9" width="3.0" height="3.0"/><rect x="341.38" y="399.9" width="3.0" height="3.0"/><rect x="349.9" y="399.9" width="3.0" height="3.0"/><rect x="358.42" y="399.9" width="3.0" height="3.0"/><rect x="366.94" y="399.9" width="3.0" height="3.0"/><rect x="375.46" y="399.9" width="3.0" height="3.0"/><rect x="383.98" y="399.9" width="3.0" height="3.0"/></g>
<polyline points="181,387.6 189.52,429.5 198.04,445.5 206.56,461.7 215.08,463.7 223.6,466 232.12,467.5 240.64,468.7 249.16,470.4 257.68,471.3 266.2,472 274.72,472.8 283.24,474.2 291.76,475.2 300.28,477.4 308.8,479.4 317.32,481 325.84,482.6 334.36,484.5 342.88,485.8 351.4,487.1 359.92,488.7 368.44,491.3 376.96,492.6 385.48,493.8" fill="none" stroke="#ff0000" stroke-width="0.55" stroke-opacity="0.9"/>
<g fill="#ff0000"><rect x="179.5" y="386.1" width="3.0" height="3.0"/><rect x="188.02" y="428" width="3.0" height="3.0"/><rect x="196.54" y="444" width="3.0" height="3.0"/><rect x="205.06" y="460.2" width="3.0" height="3.0"/><rect x="213.58" y="462.2" width="3.0" height="3.0"/><rect x="222.1" y="464.5" width="3.0" height="3.0"/><rect x="230.62" y="466" width="3.0" height="3.0"/><rect x="239.14" y="467.2" width="3.0" height="3.0"/><rect x="247.66" y="468.9" width="3.0" height="3.0"/><rect x="256.18" y="469.8" width="3.0" height="3.0"/><rect x="264.7" y="470.5" width="3.0" height="3.0"/><rect x="273.22" y="471.3" width="3.0" height="3.0"/><rect x="281.74" y="472.7" width="3.0" height="3.0"/><rect x="290.26" y="473.7" width="3.0" height="3.0"/><rect x="298.78" y="475.9" width="3.0" height="3.0"/><rect x="307.3" y="477.9" width="3.0" height="3.0"/><rect x="315.82" y="479.5" width="3.0" height="3.0"/><rect x="324.34" y="481.1" width="3.0" height="3.0"/><rect x="332.86" y="483" width="3.0" height="3.0"/><rect x="341.38" y="484.3" width="3.0" height="3.0"/><rect x="349.9" y="485.6" width="3.0" height="3.0"/><rect x="358.42" y="487.2" width="3.0" height="3.0"/><rect x="366.94" y="489.8" width="3.0" height="3.0"/><rect x="375.46" y="491.1" width="3.0" height="3.0"/><rect x="383.98" y="492.3" width="3.0" height="3.0"/></g>
<polyline points="181,380.6 189.52,381 198.04,381 206.56,382.4 215.08,384 223.6,384 232.12,398 240.64,407.2 249.16,407.4 257.68,407.5 266.2,407.6 274.72,408.3 283.24,408.3 291.76,408.3 300.28,408.3 308.8,408.3 317.32,408.3 325.84,408.3 334.36,408.3 342.88,408.3 351.4,408.3 359.92,408.3 368.44,408.3 376.96,408.3 385.48,408.3" fill="none" stroke="#8c564b" stroke-width="0.55" stroke-opacity="0.9"/>
<g fill="#8c564b"><rect x="179.5" y="379.1" width="3.0" height="3.0"/><rect x="188.02" y="379.5" width="3.0" height="3.0"/><rect x="196.54" y="379.5" width="3.0" height="3.0"/><rect x="205.06" y="380.9" width="3.0" height="3.0"/><rect x="213.58" y="382.5" width="3.0" height="3.0"/><rect x="222.1" y="382.5" width="3.0" height="3.0"/><rect x="230.62" y="396.5" width="3.0" height="3.0"/><rect x="239.14" y="405.7" width="3.0" height="3.0"/><rect x="247.66" y="405.9" width="3.0" height="3.0"/><rect x="256.18" y="406" width="3.0" height="3.0"/><rect x="264.7" y="406.1" width="3.0" height="3.0"/><rect x="273.22" y="406.8" width="3.0" height="3.0"/><rect x="281.74" y="406.8" width="3.0" height="3.0"/><rect x="290.26" y="406.8" width="3.0" height="3.0"/><rect x="298.78" y="406.8" width="3.0" height="3.0"/><rect x="307.3" y="406.8" width="3.0" height="3.0"/><rect x="315.82" y="406.8" width="3.0" height="3.0"/><rect x="324.34" y="406.8" width="3.0" height="3.0"/><rect x="332.86" y="406.8" width="3.0" height="3.0"/><rect x="341.38" y="406.8" width="3.0" height="3.0"/><rect x="349.9" y="406.8" width="3.0" height="3.0"/><rect x="358.42" y="406.8" width="3.0" height="3.0"/><rect x="366.94" y="406.8" width="3.0" height="3.0"/><rect x="375.46" y="406.8" width="3.0" height="3.0"/><rect x="383.98" y="406.8" width="3.0" height="3.0"/></g>
<polyline points="181,374.6 189.52,398 198.04,399.4 206.56,399.6 215.08,401.4 223.6,401.39 232.12,401.38 240.64,401.37 249.16,401.36 257.68,401.35 266.2,401.34 274.72,401.33 283.24,401.32 291.76,401.31 300.28,401.3 308.8,401.29 317.32,401.28 325.84,401.27 334.36,401.26 342.88,401.25 351.4,401.24 359.92,401.23 368.44,401.22 376.96,401.21 385.48,401.2" fill="none" stroke="#e377c2" stroke-width="0.55" stroke-opacity="0.9"/>
<g fill="#e377c2"><rect x="179.5" y="373.1" width="3.0" height="3.0"/><rect x="188.02" y="396.5" width="3.0" height="3.0"/><rect x="196.54" y="397.9" width="3.0" height="3.0"/><rect x="205.06" y="398.1" width="3.0" height="3.0"/><rect x="213.58" y="399.9" width="3.0" height="3.0"/><rect x="222.1" y="399.89" width="3.0" height="3.0"/><rect x="230.62" y="399.88" width="3.0" height="3.0"/><rect x="239.14" y="399.87" width="3.0" height="3.0"/><rect x="247.66" y="399.86" width="3.0" height="3.0"/><rect x="256.18" y="399.85" width="3.0" height="3.0"/><rect x="264.7" y="399.84" width="3.0" height="3.0"/><rect x="273.22" y="399.83" width="3.0" height="3.0"/><rect x="281.74" y="399.82" width="3.0" height="3.0"/><rect x="290.26" y="399.81" width="3.0" height="3.0"/><rect x="298.78" y="399.8" width="3.0" height="3.0"/><rect x="307.3" y="399.79" width="3.0" height="3.0"/><rect x="315.82" y="399.78" width="3.0" height="3.0"/><rect x="324.34" y="399.77" width="3.0" height="3.0"/><rect x="332.86" y="399.76" width="3.0" height="3.0"/><rect x="341.38" y="399.75" width="3.0" height="3.0"/><rect x="349.9" y="399.74" width="3.0" height="3.0"/><rect x="358.42" y="399.73" width="3.0" height="3.0"/><rect x="366.94" y="399.72" width="3.0" height="3.0"/><rect x="375.46" y="399.71" width="3.0" height="3.0"/><rect x="383.98" y="399.7" width="3.0" height="3.0"/></g>
<polyline points="181,378 189.52,416.6 198.04,419 206.56,422.2 215.08,423.2 223.6,425.6 232.12,427.4 240.64,428.6 249.16,430.2 257.68,430.8 266.2,431.2 274.72,431.4 283.24,431.4 291.76,431.4 300.28,431.4 308.8,431.4 317.32,431.4 325.84,431.4 334.36,431.4 342.88,431.4 351.4,431.4 359.92,431.4 368.44,431.4 376.96,431.4 385.48,431.4" fill="none" stroke="#7f7f7f" stroke-width="0.55" stroke-opacity="0.9"/>
<g fill="#7f7f7f"><rect x="179.5" y="376.5" width="3.0" height="3.0"/><rect x="188.02" y="415.1" width="3.0" height="3.0"/><rect x="196.54" y="417.5" width="3.0" height="3.0"/><rect x="205.06" y="420.7" width="3.0" height="3.0"/><rect x="213.58" y="421.7" width="3.0" height="3.0"/><rect x="222.1" y="424.1" width="3.0" height="3.0"/><rect x="230.62" y="425.9" width="3.0" height="3.0"/><rect x="239.14" y="427.1" width="3.0" height="3.0"/><rect x="247.66" y="428.7" width="3.0" height="3.0"/><rect x="256.18" y="429.3" width="3.0" height="3.0"/><rect x="264.7" y="429.7" width="3.0" height="3.0"/><rect x="273.22" y="429.9" width="3.0" height="3.0"/><rect x="281.74" y="429.9" width="3.0" height="3.0"/><rect x="290.26" y="429.9" width="3.0" height="3.0"/><rect x="298.78" y="429.9" width="3.0" height="3.0"/><rect x="307.3" y="429.9" width="3.0" height="3.0"/><rect x="315.82" y="429.9" width="3.0" height="3.0"/><rect x="324.34" y="429.9" width="3.0" height="3.0"/><rect x="332.86" y="429.9" width="3.0" height="3.0"/><rect x="341.38" y="429.9" width="3.0" height="3.0"/><rect x="349.9" y="429.9" width="3.0" height="3.0"/><rect x="358.42" y="429.9" width="3.0" height="3.0"/><rect x="366.94" y="429.9" width="3.0" height="3.0"/><rect x="375.46" y="429.9" width="3.0" height="3.0"/><rect x="383.98" y="429.9" width="3.0" height="3.0"/></g>
<rect x="170.6" y="368.4" width="224.9" height="131.6" fill="none" stroke="#8c8c8c" stroke-width="0.75"/>
<rect x="171.7" y="442.9" width="32.9" height="54.4" rx="0.8" fill="#fff" fill-opacity="0.8" stroke="#d0d0d0" stroke-width="0.4"/>
<line x1="174.1" y1="446.7" x2="182.1" y2="446.7" stroke="#1f77b4" stroke-width="0.5"/>
<rect x="176.65" y="445.25" width="2.9" height="2.9" fill="#1f77b4"/>
<text x="185.7" y="448.19" font-size="4.15" fill="#1a1a1a" class="t">WOA</text>
<line x1="174.1" y1="452.64" x2="182.1" y2="452.64" stroke="#ff7f0e" stroke-width="0.5"/>
<rect x="176.65" y="451.19" width="2.9" height="2.9" fill="#ff7f0e"/>
<text x="185.7" y="454.13" font-size="4.15" fill="#1a1a1a" class="t">CSA</text>
<line x1="174.1" y1="458.58" x2="182.1" y2="458.58" stroke="#2ca02c" stroke-width="0.5"/>
<rect x="176.65" y="457.13" width="2.9" height="2.9" fill="#2ca02c"/>
<text x="185.7" y="460.07" font-size="4.15" fill="#1a1a1a" class="t">HHO</text>
<line x1="174.1" y1="464.52" x2="182.1" y2="464.52" stroke="#d62728" stroke-width="0.5"/>
<rect x="176.65" y="463.07" width="2.9" height="2.9" fill="#d62728"/>
<text x="185.7" y="466.01" font-size="4.15" fill="#1a1a1a" class="t">EHO</text>
<line x1="174.1" y1="470.46" x2="182.1" y2="470.46" stroke="#9467bd" stroke-width="0.5"/>
<rect x="176.65" y="469.01" width="2.9" height="2.9" fill="#9467bd"/>
<text x="185.7" y="471.95" font-size="4.15" fill="#1a1a1a" class="t">BES</text>
<line x1="174.1" y1="476.4" x2="182.1" y2="476.4" stroke="#ff0000" stroke-width="0.5"/>
<rect x="176.65" y="474.95" width="2.9" height="2.9" fill="#ff0000"/>
<text x="185.7" y="477.89" font-size="4.15" fill="#1a1a1a" class="t">ImWOA</text>
<line x1="174.1" y1="482.34" x2="182.1" y2="482.34" stroke="#8c564b" stroke-width="0.5"/>
<rect x="176.65" y="480.89" width="2.9" height="2.9" fill="#8c564b"/>
<text x="185.7" y="483.83" font-size="4.15" fill="#1a1a1a" class="t">ImWOA1</text>
<line x1="174.1" y1="488.28" x2="182.1" y2="488.28" stroke="#e377c2" stroke-width="0.5"/>
<rect x="176.65" y="486.83" width="2.9" height="2.9" fill="#e377c2"/>
<text x="185.7" y="489.77" font-size="4.15" fill="#1a1a1a" class="t">ImWOA2</text>
<line x1="174.1" y1="494.22" x2="182.1" y2="494.22" stroke="#7f7f7f" stroke-width="0.5"/>
<rect x="176.65" y="492.77" width="2.9" height="2.9" fill="#7f7f7f"/>
<text x="185.7" y="495.71" font-size="4.15" fill="#1a1a1a" class="t">ImWOA3</text>
<text x="283" y="511.79" font-size="4.15" text-anchor="middle" fill="#1a1a1a" class="t">Iteration</text>
<text transform="translate(157.29,434.7) rotate(-90)" font-size="4.15" text-anchor="middle" fill="#1a1a1a" class="t">Average Fitness Value</text>
<text x="274.9" y="528.2" font-size="10.8" text-anchor="middle" fill="#000" stroke="#000" stroke-width="0.15" font-family="'Liberation Serif','DejaVu Serif',serif">F29</text>
</svg>
</body></html>
